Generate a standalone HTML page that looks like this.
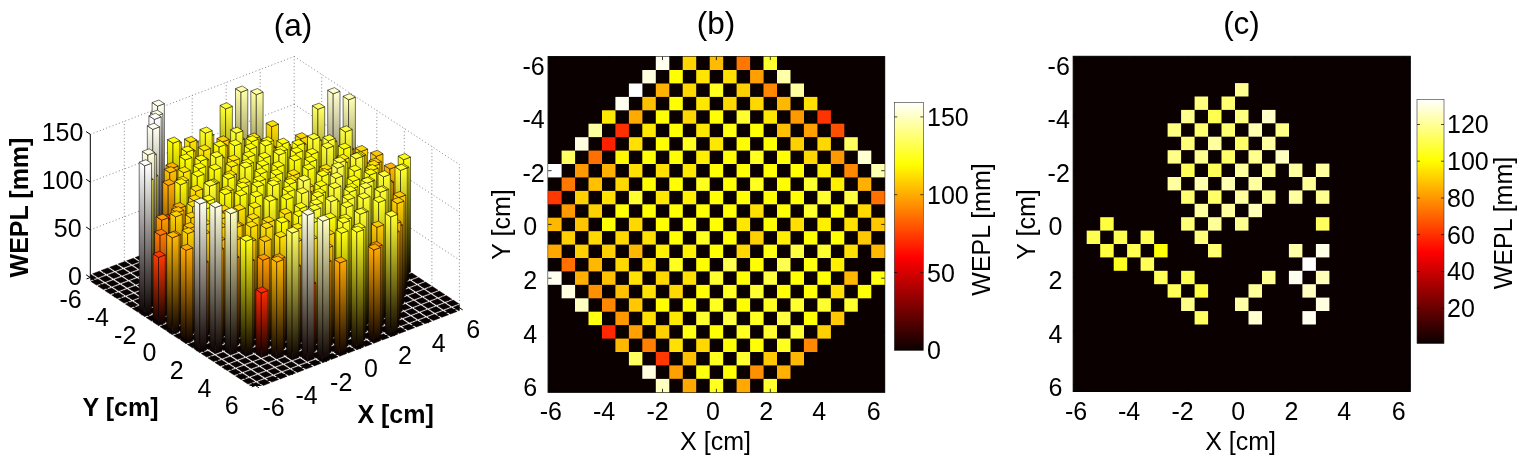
<!DOCTYPE html>
<html><head><meta charset="utf-8"><title>WEPL maps</title>
<style>
html,body{margin:0;padding:0;background:#fff;}
body{width:1529px;height:466px;overflow:hidden;}
svg{display:block;}
text{font-family:"Liberation Sans", sans-serif;fill:#000;}
.t{font-size:25px;}
.h{font-size:31.5px;}
.b{font-size:25px;font-weight:bold;}
</style></head><body>
<svg width="1529" height="466" viewBox="0 0 1529 466">
<defs>
<linearGradient id="hot" x1="0" y1="1" x2="0" y2="0"><stop offset="0" stop-color="#0b0000"/><stop offset="0.375" stop-color="#ff0000"/><stop offset="0.75" stop-color="#ffff00"/><stop offset="1" stop-color="#ffffff"/></linearGradient>
<linearGradient id="g0" x1="0" y1="0" x2="0" y2="1"><stop offset="0" stop-color="#ff2000"/><stop offset="1" stop-color="#0b0000"/></linearGradient>
<linearGradient id="g1" x1="0" y1="0" x2="0" y2="1"><stop offset="0" stop-color="#ff2800"/><stop offset="1" stop-color="#0b0000"/></linearGradient>
<linearGradient id="g2" x1="0" y1="0" x2="0" y2="1"><stop offset="0" stop-color="#ff3000"/><stop offset="1" stop-color="#0b0000"/></linearGradient>
<linearGradient id="g3" x1="0" y1="0" x2="0" y2="1"><stop offset="0" stop-color="#ff3300"/><stop offset="1" stop-color="#0b0000"/></linearGradient>
<linearGradient id="g4" x1="0" y1="0" x2="0" y2="1"><stop offset="0" stop-color="#ff3800"/><stop offset="1" stop-color="#0b0000"/></linearGradient>
<linearGradient id="g5" x1="0" y1="0" x2="0" y2="1"><stop offset="0" stop-color="#ff5000"/><stop offset="1" stop-color="#0b0000"/></linearGradient>
<linearGradient id="g6" x1="0" y1="0" x2="0" y2="1"><stop offset="0" stop-color="#ff7000"/><stop offset="1" stop-color="#0b0000"/></linearGradient>
<linearGradient id="g7" x1="0" y1="0" x2="0" y2="1"><stop offset="0" stop-color="#ff7700"/><stop offset="1" stop-color="#0b0000"/></linearGradient>
<linearGradient id="g8" x1="0" y1="0" x2="0" y2="1"><stop offset="0" stop-color="#ff7800"/><stop offset="1" stop-color="#0b0000"/></linearGradient>
<linearGradient id="g9" x1="0" y1="0" x2="0" y2="1"><stop offset="0" stop-color="#ff8000"/><stop offset="1" stop-color="#0b0000"/></linearGradient>
<linearGradient id="g10" x1="0" y1="0" x2="0" y2="1"><stop offset="0" stop-color="#ff8800"/><stop offset="1" stop-color="#0b0000"/></linearGradient>
<linearGradient id="g11" x1="0" y1="0" x2="0" y2="1"><stop offset="0" stop-color="#ff9000"/><stop offset="1" stop-color="#0b0000"/></linearGradient>
<linearGradient id="g12" x1="0" y1="0" x2="0" y2="1"><stop offset="0" stop-color="#ff9800"/><stop offset="1" stop-color="#0b0000"/></linearGradient>
<linearGradient id="g13" x1="0" y1="0" x2="0" y2="1"><stop offset="0" stop-color="#ff9900"/><stop offset="1" stop-color="#0b0000"/></linearGradient>
<linearGradient id="g14" x1="0" y1="0" x2="0" y2="1"><stop offset="0" stop-color="#ffa000"/><stop offset="1" stop-color="#0b0000"/></linearGradient>
<linearGradient id="g15" x1="0" y1="0" x2="0" y2="1"><stop offset="0" stop-color="#ffa800"/><stop offset="1" stop-color="#0b0000"/></linearGradient>
<linearGradient id="g16" x1="0" y1="0" x2="0" y2="1"><stop offset="0" stop-color="#ffaa00"/><stop offset="1" stop-color="#0b0000"/></linearGradient>
<linearGradient id="g17" x1="0" y1="0" x2="0" y2="1"><stop offset="0" stop-color="#ffb000"/><stop offset="1" stop-color="#0b0000"/></linearGradient>
<linearGradient id="g18" x1="0" y1="0" x2="0" y2="1"><stop offset="0" stop-color="#ffb800"/><stop offset="1" stop-color="#0b0000"/></linearGradient>
<linearGradient id="g19" x1="0" y1="0" x2="0" y2="1"><stop offset="0" stop-color="#ffbb00"/><stop offset="1" stop-color="#0b0000"/></linearGradient>
<linearGradient id="g20" x1="0" y1="0" x2="0" y2="1"><stop offset="0" stop-color="#ffc000"/><stop offset="1" stop-color="#0b0000"/></linearGradient>
<linearGradient id="g21" x1="0" y1="0" x2="0" y2="1"><stop offset="0" stop-color="#ffc400"/><stop offset="1" stop-color="#0b0000"/></linearGradient>
<linearGradient id="g22" x1="0" y1="0" x2="0" y2="1"><stop offset="0" stop-color="#ffc800"/><stop offset="1" stop-color="#0b0000"/></linearGradient>
<linearGradient id="g23" x1="0" y1="0" x2="0" y2="1"><stop offset="0" stop-color="#ffd000"/><stop offset="1" stop-color="#0b0000"/></linearGradient>
<linearGradient id="g24" x1="0" y1="0" x2="0" y2="1"><stop offset="0" stop-color="#ffd500"/><stop offset="1" stop-color="#0b0000"/></linearGradient>
<linearGradient id="g25" x1="0" y1="0" x2="0" y2="1"><stop offset="0" stop-color="#ffd800"/><stop offset="1" stop-color="#0b0000"/></linearGradient>
<linearGradient id="g26" x1="0" y1="0" x2="0" y2="1"><stop offset="0" stop-color="#ffe000"/><stop offset="1" stop-color="#0b0000"/></linearGradient>
<linearGradient id="g27" x1="0" y1="0" x2="0" y2="1"><stop offset="0" stop-color="#ffe500"/><stop offset="1" stop-color="#0b0000"/></linearGradient>
<linearGradient id="g28" x1="0" y1="0" x2="0" y2="1"><stop offset="0" stop-color="#ffe800"/><stop offset="1" stop-color="#0b0000"/></linearGradient>
<linearGradient id="g29" x1="0" y1="0" x2="0" y2="1"><stop offset="0" stop-color="#fff000"/><stop offset="1" stop-color="#0b0000"/></linearGradient>
<linearGradient id="g30" x1="0" y1="0" x2="0" y2="1"><stop offset="0" stop-color="#fff800"/><stop offset="1" stop-color="#0b0000"/></linearGradient>
<linearGradient id="g31" x1="0" y1="0" x2="0" y2="1"><stop offset="0" stop-color="#fffde0"/><stop offset="1" stop-color="#0b0000"/></linearGradient>
<linearGradient id="g32" x1="0" y1="0" x2="0" y2="1"><stop offset="0" stop-color="#ffff00"/><stop offset="1" stop-color="#0b0000"/></linearGradient>
<linearGradient id="g33" x1="0" y1="0" x2="0" y2="1"><stop offset="0" stop-color="#ffff10"/><stop offset="1" stop-color="#0b0000"/></linearGradient>
<linearGradient id="g34" x1="0" y1="0" x2="0" y2="1"><stop offset="0" stop-color="#ffff20"/><stop offset="1" stop-color="#0b0000"/></linearGradient>
<linearGradient id="g35" x1="0" y1="0" x2="0" y2="1"><stop offset="0" stop-color="#ffff30"/><stop offset="1" stop-color="#0b0000"/></linearGradient>
<linearGradient id="g36" x1="0" y1="0" x2="0" y2="1"><stop offset="0" stop-color="#ffff40"/><stop offset="1" stop-color="#0b0000"/></linearGradient>
<linearGradient id="g37" x1="0" y1="0" x2="0" y2="1"><stop offset="0" stop-color="#ffff50"/><stop offset="1" stop-color="#0b0000"/></linearGradient>
<linearGradient id="g38" x1="0" y1="0" x2="0" y2="1"><stop offset="0" stop-color="#ffff60"/><stop offset="1" stop-color="#0b0000"/></linearGradient>
<linearGradient id="g39" x1="0" y1="0" x2="0" y2="1"><stop offset="0" stop-color="#ffffa0"/><stop offset="1" stop-color="#0b0000"/></linearGradient>
<linearGradient id="g40" x1="0" y1="0" x2="0" y2="1"><stop offset="0" stop-color="#ffffa8"/><stop offset="1" stop-color="#0b0000"/></linearGradient>
<linearGradient id="g41" x1="0" y1="0" x2="0" y2="1"><stop offset="0" stop-color="#ffffb0"/><stop offset="1" stop-color="#0b0000"/></linearGradient>
<linearGradient id="g42" x1="0" y1="0" x2="0" y2="1"><stop offset="0" stop-color="#ffffc0"/><stop offset="1" stop-color="#0b0000"/></linearGradient>
<linearGradient id="g43" x1="0" y1="0" x2="0" y2="1"><stop offset="0" stop-color="#ffffd0"/><stop offset="1" stop-color="#0b0000"/></linearGradient>
<linearGradient id="g44" x1="0" y1="0" x2="0" y2="1"><stop offset="0" stop-color="#ffffe0"/><stop offset="1" stop-color="#0b0000"/></linearGradient>
<linearGradient id="g45" x1="0" y1="0" x2="0" y2="1"><stop offset="0" stop-color="#fffff0"/><stop offset="1" stop-color="#0b0000"/></linearGradient>
<linearGradient id="g46" x1="0" y1="0" x2="0" y2="1"><stop offset="0" stop-color="#ffffff"/><stop offset="1" stop-color="#0b0000"/></linearGradient>
</defs>
<rect width="1529" height="466" fill="#fff"/>
<clipPath id="cl"><rect x="90.3" y="40" width="369.4" height="346"/></clipPath>
<g stroke="#666" stroke-width="0.8" stroke-dasharray="1 2.4" fill="none">
<path d="M124.3 264.5L124.3 121.3" />
<path d="M158.3 251.6L158.3 108.4" />
<path d="M192.2 238.6L192.2 95.4" />
<path d="M226.2 225.6L226.2 82.4" />
<path d="M260.2 212.7L260.2 69.5" />
<path d="M294.2 199.7L294.2 56.5" />
<path d="M321.7 217.7L321.7 74.5" />
<path d="M349.3 235.7L349.3 92.5" />
<path d="M376.8 253.7L376.8 110.5" />
<path d="M404.3 271.7L404.3 128.5" />
<path d="M431.9 289.7L431.9 146.5" />
<path d="M459.4 307.7L459.4 164.5" />
<path d="M90.3 277.5L294.2 199.7" />
<path d="M294.2 199.7L459.4 307.7" />
<path d="M90.3 229.8L294.2 152" />
<path d="M294.2 152L459.4 260" />
<path d="M90.3 182L294.2 104.2" />
<path d="M294.2 104.2L459.4 212.2" />
<path d="M90.3 134.3L294.2 56.5" />
<path d="M294.2 56.5L459.4 164.5" />
</g>
<g clip-path="url(#cl)">
<path d="M84.1 277L90.9 274.4L96.5 278L89.7 280.6ZM92.6 273.8L99.4 271.2L104.9 274.8L98.2 277.4ZM101.1 270.5L107.9 267.9L113.4 271.5L106.6 274.1ZM109.6 267.3L116.4 264.7L121.9 268.3L115.1 270.9ZM118.1 264L124.9 261.4L130.4 265L123.6 267.6ZM126.6 260.8L133.4 258.2L138.9 261.8L132.1 264.4ZM135.1 257.5L141.9 255L147.4 258.6L140.6 261.1ZM143.6 254.3L150.4 251.7L155.9 255.3L149.1 257.9ZM160.6 247.8L167.4 245.2L172.9 248.8L166.1 251.4ZM177.6 241.3L184.4 238.7L189.9 242.3L183.1 244.9ZM194.6 234.9L201.4 232.3L206.9 235.9L200.1 238.5ZM211.6 228.4L218.4 225.8L223.9 229.4L217.1 232ZM228.6 221.9L235.4 219.3L240.9 222.9L234.1 225.5ZM237.1 218.6L243.9 216.1L249.4 219.7L242.6 222.2ZM245.6 215.4L252.4 212.8L257.9 216.4L251.1 219ZM254.1 212.2L260.9 209.6L266.4 213.2L259.6 215.8ZM262.6 208.9L269.4 206.3L274.9 209.9L268.1 212.5ZM271.1 205.7L277.9 203.1L283.4 206.7L276.6 209.3ZM279.6 202.4L286.3 199.8L291.9 203.4L285.1 206ZM288 199.2L294.8 196.6L300.4 200.2L293.6 202.8ZM91 281.5L97.8 278.9L103.3 282.5L96.5 285.1ZM99.5 278.3L106.3 275.7L111.8 279.3L105 281.9ZM108 275L114.8 272.4L120.3 276L113.5 278.6ZM116.5 271.8L123.3 269.2L128.8 272.8L122 275.4ZM125 268.5L131.8 265.9L137.3 269.5L130.5 272.1ZM133.5 265.3L140.3 262.7L145.8 266.3L139 268.9ZM142 262L148.8 259.5L154.3 263.1L147.5 265.6ZM159 255.6L165.8 253L171.3 256.6L164.5 259.2ZM176 249.1L182.8 246.5L188.3 250.1L181.5 252.7ZM193 242.6L199.8 240L205.3 243.6L198.5 246.2ZM210 236.1L216.8 233.5L222.3 237.1L215.5 239.7ZM227 229.6L233.8 227L239.3 230.6L232.5 233.2ZM244 223.1L250.8 220.6L256.3 224.2L249.5 226.7ZM252.5 219.9L259.2 217.3L264.8 220.9L258 223.5ZM260.9 216.7L267.7 214.1L273.3 217.7L266.5 220.3ZM269.4 213.4L276.2 210.8L281.7 214.4L275 217ZM277.9 210.2L284.7 207.6L290.2 211.2L283.4 213.8ZM286.4 206.9L293.2 204.3L298.7 207.9L291.9 210.5ZM294.9 203.7L301.7 201.1L307.2 204.7L300.4 207.3ZM97.9 286L104.7 283.4L110.2 287L103.4 289.6ZM106.4 282.8L113.2 280.2L118.7 283.8L111.9 286.4ZM114.9 279.5L121.7 276.9L127.2 280.5L120.4 283.1ZM123.4 276.3L130.2 273.7L135.7 277.3L128.9 279.9ZM131.9 273L138.7 270.4L144.2 274L137.4 276.6ZM140.4 269.8L147.2 267.2L152.7 270.8L145.9 273.4ZM157.4 263.3L164.2 260.7L169.7 264.3L162.9 266.9ZM174.4 256.8L181.2 254.2L186.7 257.8L179.9 260.4ZM191.4 250.3L198.2 247.7L203.7 251.3L196.9 253.9ZM208.4 243.9L215.2 241.3L220.7 244.9L213.9 247.5ZM225.4 237.4L232.1 234.8L237.7 238.4L230.9 241ZM242.3 230.9L249.1 228.3L254.6 231.9L247.9 234.5ZM259.3 224.4L266.1 221.8L271.6 225.4L264.8 228ZM267.8 221.2L274.6 218.6L280.1 222.2L273.3 224.8ZM276.3 217.9L283.1 215.3L288.6 218.9L281.8 221.5ZM284.8 214.7L291.6 212.1L297.1 215.7L290.3 218.3ZM293.3 211.4L300.1 208.8L305.6 212.4L298.8 215ZM301.8 208.2L308.6 205.6L314.1 209.2L307.3 211.8ZM104.8 290.5L111.6 287.9L117.1 291.5L110.3 294.1ZM113.3 287.3L120.1 284.7L125.6 288.3L118.8 290.9ZM121.8 284L128.6 281.4L134.1 285L127.3 287.6ZM130.3 280.8L137.1 278.2L142.6 281.8L135.8 284.4ZM138.8 277.5L145.6 274.9L151.1 278.5L144.3 281.1ZM155.8 271L162.6 268.5L168.1 272.1L161.3 274.6ZM172.8 264.6L179.6 262L185.1 265.6L178.3 268.2ZM189.8 258.1L196.6 255.5L202.1 259.1L195.3 261.7ZM206.7 251.6L213.5 249L219.1 252.6L212.3 255.2ZM223.7 245.1L230.5 242.5L236 246.1L229.2 248.7ZM240.7 238.6L247.5 236L253 239.6L246.2 242.2ZM257.7 232.1L264.5 229.6L270 233.2L263.2 235.7ZM274.7 225.7L281.5 223.1L287 226.7L280.2 229.3ZM283.2 222.4L290 219.8L295.5 223.4L288.7 226ZM291.7 219.2L298.5 216.6L304 220.2L297.2 222.8ZM300.2 215.9L307 213.3L312.5 216.9L305.7 219.5ZM308.7 212.7L315.5 210.1L321 213.7L314.2 216.3ZM111.7 295L118.5 292.4L124 296L117.2 298.6ZM120.2 291.8L127 289.2L132.5 292.8L125.7 295.4ZM128.7 288.5L135.5 285.9L141 289.5L134.2 292.1ZM137.2 285.3L144 282.7L149.5 286.3L142.7 288.9ZM154.2 278.8L161 276.2L166.5 279.8L159.7 282.4ZM171.2 272.3L177.9 269.7L183.5 273.3L176.7 275.9ZM188.1 265.8L194.9 263.2L200.4 266.8L193.7 269.4ZM205.1 259.3L211.9 256.7L217.4 260.3L210.6 262.9ZM222.1 252.9L228.9 250.3L234.4 253.9L227.6 256.5ZM239.1 246.4L245.9 243.8L251.4 247.4L244.6 250ZM256.1 239.9L262.9 237.3L268.4 240.9L261.6 243.5ZM273.1 233.4L279.9 230.8L285.4 234.4L278.6 237ZM290.1 226.9L296.9 224.3L302.4 227.9L295.6 230.5ZM298.6 223.7L305.4 221.1L310.9 224.7L304.1 227.3ZM307.1 220.4L313.9 217.8L319.4 221.4L312.6 224ZM315.6 217.2L322.4 214.6L327.9 218.2L321.1 220.8ZM118.6 299.5L125.4 296.9L130.9 300.5L124.1 303.1ZM127.1 296.3L133.9 293.7L139.4 297.3L132.6 299.9ZM135.6 293L142.4 290.4L147.9 294L141.1 296.6ZM152.5 286.5L159.3 283.9L164.9 287.5L158.1 290.1ZM169.5 280L176.3 277.5L181.8 281.1L175 283.6ZM186.5 273.6L193.3 271L198.8 274.6L192 277.2ZM203.5 267.1L210.3 264.5L215.8 268.1L209 270.7ZM220.5 260.6L227.3 258L232.8 261.6L226 264.2ZM237.5 254.1L244.3 251.5L249.8 255.1L243 257.7ZM254.5 247.6L261.3 245L266.8 248.6L260 251.2ZM271.5 241.1L278.3 238.6L283.8 242.2L277 244.7ZM288.5 234.7L295.3 232.1L300.8 235.7L294 238.3ZM305.5 228.2L312.3 225.6L317.8 229.2L311 231.8ZM314 224.9L320.8 222.3L326.3 225.9L319.5 228.5ZM322.5 221.7L329.3 219.1L334.8 222.7L328 225.3ZM125.4 304L132.2 301.4L137.8 305L131 307.6ZM133.9 300.8L140.7 298.2L146.2 301.8L139.5 304.4ZM150.9 294.3L157.7 291.7L163.2 295.3L156.4 297.9ZM167.9 287.8L174.7 285.2L180.2 288.8L173.4 291.4ZM184.9 281.3L191.7 278.7L197.2 282.3L190.4 284.9ZM201.9 274.8L208.7 272.2L214.2 275.8L207.4 278.4ZM218.9 268.3L225.7 265.7L231.2 269.3L224.4 271.9ZM235.9 261.9L242.7 259.3L248.2 262.9L241.4 265.5ZM252.9 255.4L259.7 252.8L265.2 256.4L258.4 259ZM269.9 248.9L276.7 246.3L282.2 249.9L275.4 252.5ZM286.9 242.4L293.7 239.8L299.2 243.4L292.4 246ZM303.9 235.9L310.7 233.3L316.2 236.9L309.4 239.5ZM320.9 229.4L327.6 226.8L333.2 230.4L326.4 233ZM329.3 226.2L336.1 223.6L341.7 227.2L334.9 229.8ZM132.3 308.5L139.1 305.9L144.6 309.5L137.8 312.1ZM149.3 302L156.1 299.4L161.6 303L154.8 305.6ZM166.3 295.5L173.1 292.9L178.6 296.5L171.8 299.1ZM183.3 289L190.1 286.5L195.6 290.1L188.8 292.6ZM200.3 282.6L207.1 280L212.6 283.6L205.8 286.2ZM217.3 276.1L224.1 273.5L229.6 277.1L222.8 279.7ZM234.3 269.6L241.1 267L246.6 270.6L239.8 273.2ZM251.3 263.1L258.1 260.5L263.6 264.1L256.8 266.7ZM268.3 256.6L275.1 254L280.6 257.6L273.8 260.2ZM285.3 250.1L292.1 247.6L297.6 251.2L290.8 253.7ZM302.2 243.7L309 241.1L314.6 244.7L307.8 247.3ZM319.2 237.2L326 234.6L331.5 238.2L324.7 240.8ZM336.2 230.7L343 228.1L348.5 231.7L341.7 234.3ZM147.7 309.8L154.5 307.2L160 310.8L153.2 313.4ZM164.7 303.3L171.5 300.7L177 304.3L170.2 306.9ZM181.7 296.8L188.5 294.2L194 297.8L187.2 300.4ZM198.7 290.3L205.5 287.7L211 291.3L204.2 293.9ZM215.7 283.8L222.5 281.2L228 284.8L221.2 287.4ZM232.7 277.3L239.5 274.7L245 278.3L238.2 280.9ZM249.7 270.9L256.5 268.3L262 271.9L255.2 274.5ZM266.7 264.4L273.4 261.8L279 265.4L272.2 268ZM283.6 257.9L290.4 255.3L295.9 258.9L289.2 261.5ZM300.6 251.4L307.4 248.8L312.9 252.4L306.1 255ZM317.6 244.9L324.4 242.3L329.9 245.9L323.1 248.5ZM334.6 238.4L341.4 235.8L346.9 239.4L340.1 242ZM146.1 317.5L152.9 314.9L158.4 318.5L151.6 321.1ZM163.1 311L169.9 308.4L175.4 312L168.6 314.6ZM180.1 304.5L186.9 301.9L192.4 305.5L185.6 308.1ZM197.1 298L203.9 295.5L209.4 299.1L202.6 301.6ZM214.1 291.6L220.9 289L226.4 292.6L219.6 295.2ZM231.1 285.1L237.9 282.5L243.4 286.1L236.6 288.7ZM248 278.6L254.8 276L260.4 279.6L253.6 282.2ZM265 272.1L271.8 269.5L277.3 273.1L270.5 275.7ZM282 265.6L288.8 263L294.3 266.6L287.5 269.2ZM299 259.1L305.8 256.6L311.3 260.2L304.5 262.7ZM316 252.7L322.8 250.1L328.3 253.7L321.5 256.3ZM333 246.2L339.8 243.6L345.3 247.2L338.5 249.8ZM350 239.7L356.8 237.1L362.3 240.7L355.5 243.3ZM161.5 318.8L168.3 316.2L173.8 319.8L167 322.4ZM178.5 312.3L185.3 309.7L190.8 313.3L184 315.9ZM195.5 305.8L202.3 303.2L207.8 306.8L201 309.4ZM212.5 299.3L219.2 296.7L224.8 300.3L218 302.9ZM229.4 292.8L236.2 290.2L241.7 293.8L235 296.4ZM246.4 286.3L253.2 283.7L258.7 287.3L251.9 289.9ZM263.4 279.9L270.2 277.3L275.7 280.9L268.9 283.5ZM280.4 273.4L287.2 270.8L292.7 274.4L285.9 277ZM297.4 266.9L304.2 264.3L309.7 267.9L302.9 270.5ZM314.4 260.4L321.2 257.8L326.7 261.4L319.9 264ZM331.4 253.9L338.2 251.3L343.7 254.9L336.9 257.5ZM348.4 247.4L355.2 244.8L360.7 248.4L353.9 251ZM159.9 326.5L166.7 323.9L172.2 327.5L165.4 330.1ZM176.9 320L183.7 317.4L189.2 321L182.4 323.6ZM193.8 313.5L200.6 310.9L206.2 314.5L199.4 317.1ZM210.8 307L217.6 304.5L223.1 308.1L216.3 310.6ZM227.8 300.6L234.6 298L240.1 301.6L233.3 304.2ZM244.8 294.1L251.6 291.5L257.1 295.1L250.3 297.7ZM261.8 287.6L268.6 285L274.1 288.6L267.3 291.2ZM278.8 281.1L285.6 278.5L291.1 282.1L284.3 284.7ZM295.8 274.6L302.6 272L308.1 275.6L301.3 278.2ZM312.8 268.1L319.6 265.6L325.1 269.2L318.3 271.7ZM329.8 261.7L336.6 259.1L342.1 262.7L335.3 265.3ZM346.8 255.2L353.6 252.6L359.1 256.2L352.3 258.8ZM363.8 248.7L370.6 246.1L376.1 249.7L369.3 252.3ZM175.2 327.8L182 325.2L187.5 328.8L180.8 331.4ZM192.2 321.3L199 318.7L204.5 322.3L197.7 324.9ZM209.2 314.8L216 312.2L221.5 315.8L214.7 318.4ZM226.2 308.3L233 305.7L238.5 309.3L231.7 311.9ZM243.2 301.8L250 299.2L255.5 302.8L248.7 305.4ZM260.2 295.3L267 292.7L272.5 296.3L265.7 298.9ZM277.2 288.9L284 286.3L289.5 289.9L282.7 292.5ZM294.2 282.4L301 279.8L306.5 283.4L299.7 286ZM311.2 275.9L318 273.3L323.5 276.9L316.7 279.5ZM328.2 269.4L335 266.8L340.5 270.4L333.7 273ZM345.2 262.9L352 260.3L357.5 263.9L350.7 266.5ZM362.2 256.4L368.9 253.8L374.5 257.4L367.7 260ZM173.6 335.5L180.4 332.9L185.9 336.5L179.1 339.1ZM190.6 329L197.4 326.4L202.9 330L196.1 332.6ZM207.6 322.5L214.4 319.9L219.9 323.5L213.1 326.1ZM224.6 316L231.4 313.5L236.9 317.1L230.1 319.6ZM241.6 309.6L248.4 307L253.9 310.6L247.1 313.2ZM258.6 303.1L265.4 300.5L270.9 304.1L264.1 306.7ZM275.6 296.6L282.4 294L287.9 297.6L281.1 300.2ZM292.6 290.1L299.4 287.5L304.9 291.1L298.1 293.7ZM309.6 283.6L316.4 281L321.9 284.6L315.1 287.2ZM326.6 277.1L333.4 274.6L338.9 278.2L332.1 280.7ZM343.5 270.7L350.3 268.1L355.9 271.7L349.1 274.3ZM360.5 264.2L367.3 261.6L372.8 265.2L366 267.8ZM377.5 257.7L384.3 255.1L389.8 258.7L383 261.3ZM189 336.8L195.8 334.2L201.3 337.8L194.5 340.4ZM206 330.3L212.8 327.7L218.3 331.3L211.5 333.9ZM223 323.8L229.8 321.2L235.3 324.8L228.5 327.4ZM240 317.3L246.8 314.7L252.3 318.3L245.5 320.9ZM257 310.8L263.8 308.2L269.3 311.8L262.5 314.4ZM274 304.3L280.8 301.7L286.3 305.3L279.5 307.9ZM291 297.9L297.8 295.3L303.3 298.9L296.5 301.5ZM308 291.4L314.7 288.8L320.3 292.4L313.5 295ZM324.9 284.9L331.7 282.3L337.2 285.9L330.5 288.5ZM341.9 278.4L348.7 275.8L354.2 279.4L347.4 282ZM358.9 271.9L365.7 269.3L371.2 272.9L364.4 275.5ZM375.9 265.4L382.7 262.8L388.2 266.4L381.4 269ZM187.4 344.5L194.2 341.9L199.7 345.5L192.9 348.1ZM204.4 338L211.2 335.4L216.7 339L209.9 341.6ZM221.4 331.5L228.2 328.9L233.7 332.5L226.9 335.1ZM238.4 325L245.2 322.5L250.7 326.1L243.9 328.6ZM255.4 318.6L262.2 316L267.7 319.6L260.9 322.2ZM272.4 312.1L279.2 309.5L284.7 313.1L277.9 315.7ZM289.3 305.6L296.1 303L301.7 306.6L294.9 309.2ZM306.3 299.1L313.1 296.5L318.6 300.1L311.8 302.7ZM323.3 292.6L330.1 290L335.6 293.6L328.8 296.2ZM340.3 286.1L347.1 283.6L352.6 287.2L345.8 289.7ZM357.3 279.7L364.1 277.1L369.6 280.7L362.8 283.3ZM374.3 273.2L381.1 270.6L386.6 274.2L379.8 276.8ZM382.8 269.9L389.6 267.3L395.1 270.9L388.3 273.5ZM391.3 266.7L398.1 264.1L403.6 267.7L396.8 270.3ZM202.8 345.8L209.6 343.2L215.1 346.8L208.3 349.4ZM219.8 339.3L226.6 336.7L232.1 340.3L225.3 342.9ZM236.8 332.8L243.6 330.2L249.1 333.8L242.3 336.4ZM253.8 326.3L260.5 323.7L266.1 327.3L259.3 329.9ZM270.7 319.8L277.5 317.2L283 320.8L276.3 323.4ZM287.7 313.3L294.5 310.7L300 314.3L293.2 316.9ZM304.7 306.9L311.5 304.3L317 307.9L310.2 310.5ZM321.7 300.4L328.5 297.8L334 301.4L327.2 304ZM338.7 293.9L345.5 291.3L351 294.9L344.2 297.5ZM355.7 287.4L362.5 284.8L368 288.4L361.2 291ZM372.7 280.9L379.5 278.3L385 281.9L378.2 284.5ZM389.7 274.4L396.5 271.8L402 275.4L395.2 278ZM201.2 353.5L208 350.9L213.5 354.5L206.7 357.1ZM218.2 347L225 344.4L230.5 348L223.7 350.6ZM235.1 340.5L241.9 337.9L247.5 341.5L240.7 344.1ZM252.1 334L258.9 331.5L264.4 335.1L257.6 337.6ZM269.1 327.6L275.9 325L281.4 328.6L274.6 331.2ZM286.1 321.1L292.9 318.5L298.4 322.1L291.6 324.7ZM303.1 314.6L309.9 312L315.4 315.6L308.6 318.2ZM320.1 308.1L326.9 305.5L332.4 309.1L325.6 311.7ZM337.1 301.6L343.9 299L349.4 302.6L342.6 305.2ZM354.1 295.1L360.9 292.6L366.4 296.2L359.6 298.7ZM371.1 288.7L377.9 286.1L383.4 289.7L376.6 292.3ZM388.1 282.2L394.9 279.6L400.4 283.2L393.6 285.8ZM405.1 275.7L411.9 273.1L417.4 276.7L410.6 279.3ZM208 358L214.8 355.4L220.4 359L213.6 361.6ZM216.5 354.8L223.3 352.2L228.8 355.8L222.1 358.4ZM233.5 348.3L240.3 345.7L245.8 349.3L239 351.9ZM250.5 341.8L257.3 339.2L262.8 342.8L256 345.4ZM267.5 335.3L274.3 332.7L279.8 336.3L273 338.9ZM284.5 328.8L291.3 326.2L296.8 329.8L290 332.4ZM301.5 322.3L308.3 319.7L313.8 323.3L307 325.9ZM318.5 315.9L325.3 313.3L330.8 316.9L324 319.5ZM335.5 309.4L342.3 306.8L347.8 310.4L341 313ZM352.5 302.9L359.3 300.3L364.8 303.9L358 306.5ZM369.5 296.4L376.3 293.8L381.8 297.4L375 300ZM386.5 289.9L393.3 287.3L398.8 290.9L392 293.5ZM403.5 283.4L410.2 280.8L415.8 284.4L409 287ZM411.9 280.2L418.7 277.6L424.3 281.2L417.5 283.8ZM214.9 362.5L221.7 359.9L227.2 363.5L220.4 366.1ZM223.4 359.3L230.2 356.7L235.7 360.3L228.9 362.9ZM231.9 356L238.7 353.4L244.2 357L237.4 359.6ZM248.9 349.5L255.7 346.9L261.2 350.5L254.4 353.1ZM265.9 343L272.7 340.5L278.2 344.1L271.4 346.6ZM282.9 336.6L289.7 334L295.2 337.6L288.4 340.2ZM299.9 330.1L306.7 327.5L312.2 331.1L305.4 333.7ZM316.9 323.6L323.7 321L329.2 324.6L322.4 327.2ZM333.9 317.1L340.7 314.5L346.2 318.1L339.4 320.7ZM350.9 310.6L357.7 308L363.2 311.6L356.4 314.2ZM367.9 304.1L374.7 301.6L380.2 305.2L373.4 307.7ZM384.8 297.7L391.6 295.1L397.2 298.7L390.4 301.3ZM401.8 291.2L408.6 288.6L414.1 292.2L407.3 294.8ZM410.3 287.9L417.1 285.3L422.6 288.9L415.8 291.5ZM418.8 284.7L425.6 282.1L431.1 285.7L424.3 288.3ZM221.8 367L228.6 364.4L234.1 368L227.3 370.6ZM230.3 363.8L237.1 361.2L242.6 364.8L235.8 367.4ZM238.8 360.5L245.6 357.9L251.1 361.5L244.3 364.1ZM247.3 357.3L254.1 354.7L259.6 358.3L252.8 360.9ZM264.3 350.8L271.1 348.2L276.6 351.8L269.8 354.4ZM281.3 344.3L288.1 341.7L293.6 345.3L286.8 347.9ZM298.3 337.8L305.1 335.2L310.6 338.8L303.8 341.4ZM315.3 331.3L322.1 328.7L327.6 332.3L320.8 334.9ZM332.3 324.9L339.1 322.3L344.6 325.9L337.8 328.5ZM349.3 318.4L356 315.8L361.6 319.4L354.8 322ZM366.2 311.9L373 309.3L378.5 312.9L371.8 315.5ZM383.2 305.4L390 302.8L395.5 306.4L388.7 309ZM400.2 298.9L407 296.3L412.5 299.9L405.7 302.5ZM408.7 295.7L415.5 293.1L421 296.7L414.2 299.3ZM417.2 292.4L424 289.8L429.5 293.4L422.7 296ZM425.7 289.2L432.5 286.6L438 290.2L431.2 292.8ZM228.7 371.5L235.5 368.9L241 372.5L234.2 375.1ZM237.2 368.3L244 365.7L249.5 369.3L242.7 371.9ZM245.7 365L252.5 362.4L258 366L251.2 368.6ZM254.2 361.8L261 359.2L266.5 362.8L259.7 365.4ZM262.7 358.5L269.5 355.9L275 359.5L268.2 362.1ZM279.7 352L286.5 349.5L292 353.1L285.2 355.6ZM296.7 345.6L303.5 343L309 346.6L302.2 349.2ZM313.7 339.1L320.5 336.5L326 340.1L319.2 342.7ZM330.6 332.6L337.4 330L343 333.6L336.2 336.2ZM347.6 326.1L354.4 323.5L359.9 327.1L353.1 329.7ZM364.6 319.6L371.4 317L376.9 320.6L370.1 323.2ZM381.6 313.1L388.4 310.6L393.9 314.2L387.1 316.7ZM398.6 306.7L405.4 304.1L410.9 307.7L404.1 310.3ZM407.1 303.4L413.9 300.8L419.4 304.4L412.6 307ZM415.6 300.2L422.4 297.6L427.9 301.2L421.1 303.8ZM424.1 296.9L430.9 294.3L436.4 297.9L429.6 300.5ZM432.6 293.7L439.4 291.1L444.9 294.7L438.1 297.3ZM235.6 376L242.4 373.4L247.9 377L241.1 379.6ZM244.1 372.8L250.9 370.2L256.4 373.8L249.6 376.4ZM252.6 369.5L259.4 366.9L264.9 370.5L258.1 373.1ZM261.1 366.3L267.9 363.7L273.4 367.3L266.6 369.9ZM269.6 363L276.4 360.4L281.9 364L275.1 366.6ZM278.1 359.8L284.9 357.2L290.4 360.8L283.6 363.4ZM295.1 353.3L301.8 350.7L307.4 354.3L300.6 356.9ZM312 346.8L318.8 344.2L324.3 347.8L317.6 350.4ZM329 340.3L335.8 337.7L341.3 341.3L334.5 343.9ZM346 333.9L352.8 331.3L358.3 334.9L351.5 337.5ZM363 327.4L369.8 324.8L375.3 328.4L368.5 331ZM380 320.9L386.8 318.3L392.3 321.9L385.5 324.5ZM397 314.4L403.8 311.8L409.3 315.4L402.5 318ZM405.5 311.2L412.3 308.6L417.8 312.2L411 314.8ZM414 307.9L420.8 305.3L426.3 308.9L419.5 311.5ZM422.5 304.7L429.3 302.1L434.8 305.7L428 308.3ZM431 301.4L437.8 298.8L443.3 302.4L436.5 305ZM439.5 298.2L446.3 295.6L451.8 299.2L445 301.8ZM242.5 380.5L249.3 377.9L254.8 381.5L248 384.1ZM251 377.3L257.8 374.7L263.3 378.3L256.5 380.9ZM259.5 374L266.3 371.4L271.8 375L265 377.6ZM268 370.8L274.7 368.2L280.3 371.8L273.5 374.4ZM276.4 367.5L283.2 364.9L288.8 368.5L282 371.1ZM284.9 364.3L291.7 361.7L297.2 365.3L290.5 367.9ZM293.4 361L300.2 358.5L305.7 362.1L298.9 364.6ZM310.4 354.6L317.2 352L322.7 355.6L315.9 358.2ZM327.4 348.1L334.2 345.5L339.7 349.1L332.9 351.7ZM344.4 341.6L351.2 339L356.7 342.6L349.9 345.2ZM361.4 335.1L368.2 332.5L373.7 336.1L366.9 338.7ZM378.4 328.6L385.2 326L390.7 329.6L383.9 332.2ZM395.4 322.1L402.2 319.6L407.7 323.2L400.9 325.7ZM403.9 318.9L410.7 316.3L416.2 319.9L409.4 322.5ZM412.4 315.7L419.2 313.1L424.7 316.7L417.9 319.3ZM420.9 312.4L427.7 309.8L433.2 313.4L426.4 316ZM429.4 309.2L436.2 306.6L441.7 310.2L434.9 312.8ZM437.9 305.9L444.7 303.3L450.2 306.9L443.4 309.5ZM446.4 302.7L453.2 300.1L458.7 303.7L451.9 306.3ZM249.3 385L256.1 382.4L261.7 386L254.9 388.6ZM257.8 381.8L264.6 379.2L270.1 382.8L263.4 385.4ZM266.3 378.5L273.1 375.9L278.6 379.5L271.8 382.1ZM274.8 375.3L281.6 372.7L287.1 376.3L280.3 378.9ZM283.3 372L290.1 369.4L295.6 373L288.8 375.6ZM291.8 368.8L298.6 366.2L304.1 369.8L297.3 372.4ZM300.3 365.5L307.1 363L312.6 366.6L305.8 369.1ZM308.8 362.3L315.6 359.7L321.1 363.3L314.3 365.9ZM325.8 355.8L332.6 353.2L338.1 356.8L331.3 359.4ZM342.8 349.3L349.6 346.7L355.1 350.3L348.3 352.9ZM359.8 342.9L366.6 340.3L372.1 343.9L365.3 346.5ZM376.8 336.4L383.6 333.8L389.1 337.4L382.3 340ZM393.8 329.9L400.6 327.3L406.1 330.9L399.3 333.5ZM402.3 326.6L409.1 324.1L414.6 327.7L407.8 330.2ZM410.8 323.4L417.6 320.8L423.1 324.4L416.3 327ZM419.3 320.2L426.1 317.6L431.6 321.2L424.8 323.8ZM427.8 316.9L434.6 314.3L440.1 317.9L433.3 320.5ZM436.3 313.7L443.1 311.1L448.6 314.7L441.8 317.3ZM444.8 310.4L451.5 307.8L457.1 311.4L450.3 314ZM453.2 307.2L460 304.6L465.6 308.2L458.8 310.8Z" fill="#0b0000" stroke="#000" stroke-width="0.5"/>
<g stroke="#000" stroke-width="0.55" stroke-linejoin="round">
<rect width="1" height="1" fill="url(#g35)" vector-effect="non-scaling-stroke" transform="matrix(5.5 3.6 0 119.9 220.1 105.3)"/>
<rect width="1" height="1" fill="url(#g35)" vector-effect="non-scaling-stroke" transform="matrix(6.8 -2.6 0 119.9 225.6 108.9)"/>
<path d="M220.1 105.3L226.9 102.7L232.4 106.3L225.6 108.9Z" fill="#ffff30"/>
<rect width="1" height="1" fill="url(#g7)" vector-effect="non-scaling-stroke" transform="matrix(5.5 3.6 0 82.3 203.1 149.3)"/>
<rect width="1" height="1" fill="url(#g7)" vector-effect="non-scaling-stroke" transform="matrix(6.8 -2.6 0 82.3 208.6 152.9)"/>
<path d="M203.1 149.3L209.9 146.8L215.4 150.4L208.6 152.9Z" fill="#ff7700"/>
<rect width="1" height="1" fill="url(#g19)" vector-effect="non-scaling-stroke" transform="matrix(5.5 3.6 0 97.5 186.1 140.6)"/>
<rect width="1" height="1" fill="url(#g19)" vector-effect="non-scaling-stroke" transform="matrix(6.8 -2.6 0 97.5 191.6 144.2)"/>
<path d="M186.1 140.6L192.9 138L198.4 141.6L191.6 144.2Z" fill="#ffbb00"/>
<rect width="1" height="1" fill="url(#g24)" vector-effect="non-scaling-stroke" transform="matrix(5.5 3.6 0 103.3 169.1 141.3)"/>
<rect width="1" height="1" fill="url(#g24)" vector-effect="non-scaling-stroke" transform="matrix(6.8 -2.6 0 103.3 174.6 144.9)"/>
<path d="M169.1 141.3L175.9 138.7L181.4 142.3L174.6 144.9Z" fill="#ffd500"/>
<rect width="1" height="1" fill="url(#g45)" vector-effect="non-scaling-stroke" transform="matrix(5.5 3.6 0 148.5 152.1 102.6)"/>
<rect width="1" height="1" fill="url(#g45)" vector-effect="non-scaling-stroke" transform="matrix(6.8 -2.6 0 148.5 157.6 106.2)"/>
<path d="M152.1 102.6L158.9 100L164.4 103.6L157.6 106.2Z" fill="#fffff0"/>
<rect width="1" height="1" fill="url(#g40)" vector-effect="non-scaling-stroke" transform="matrix(5.5 3.6 0 137.8 235.5 88.6)"/>
<rect width="1" height="1" fill="url(#g40)" vector-effect="non-scaling-stroke" transform="matrix(6.8 -2.6 0 137.8 241 92.2)"/>
<path d="M235.5 88.6L242.3 86L247.8 89.6L241 92.2Z" fill="#ffffa8"/>
<rect width="1" height="1" fill="url(#g14)" vector-effect="non-scaling-stroke" transform="matrix(5.5 3.6 0 91.4 218.5 141.4)"/>
<rect width="1" height="1" fill="url(#g14)" vector-effect="non-scaling-stroke" transform="matrix(6.8 -2.6 0 91.4 224 145)"/>
<path d="M218.5 141.4L225.3 138.8L230.8 142.4L224 145Z" fill="#ffa000"/>
<rect width="1" height="1" fill="url(#g26)" vector-effect="non-scaling-stroke" transform="matrix(5.5 3.6 0 105.8 201.5 133.6)"/>
<rect width="1" height="1" fill="url(#g26)" vector-effect="non-scaling-stroke" transform="matrix(6.8 -2.6 0 105.8 207 137.2)"/>
<path d="M201.5 133.6L208.3 131L213.8 134.6L207 137.2Z" fill="#ffe000"/>
<rect width="1" height="1" fill="url(#g27)" vector-effect="non-scaling-stroke" transform="matrix(5.5 3.6 0 106.9 184.5 139)"/>
<rect width="1" height="1" fill="url(#g27)" vector-effect="non-scaling-stroke" transform="matrix(6.8 -2.6 0 106.9 190 142.6)"/>
<path d="M184.5 139L191.3 136.4L196.8 140L190 142.6Z" fill="#ffe500"/>
<rect width="1" height="1" fill="url(#g32)" vector-effect="non-scaling-stroke" transform="matrix(5.5 3.6 0 112.7 167.5 139.6)"/>
<rect width="1" height="1" fill="url(#g32)" vector-effect="non-scaling-stroke" transform="matrix(6.8 -2.6 0 112.7 173 143.2)"/>
<path d="M167.5 139.6L174.3 137L179.8 140.6L173 143.2Z" fill="#ffff00"/>
<rect width="1" height="1" fill="url(#g44)" vector-effect="non-scaling-stroke" transform="matrix(5.5 3.6 0 146.1 150.5 112.7)"/>
<rect width="1" height="1" fill="url(#g44)" vector-effect="non-scaling-stroke" transform="matrix(6.8 -2.6 0 146.1 156 116.3)"/>
<path d="M150.5 112.7L157.3 110.1L162.8 113.7L156 116.3Z" fill="#ffffe0"/>
<rect width="1" height="1" fill="url(#g39)" vector-effect="non-scaling-stroke" transform="matrix(5.5 3.6 0 136.6 250.8 91.1)"/>
<rect width="1" height="1" fill="url(#g39)" vector-effect="non-scaling-stroke" transform="matrix(6.8 -2.6 0 136.6 256.3 94.7)"/>
<path d="M250.8 91.1L257.6 88.5L263.1 92.1L256.3 94.7Z" fill="#ffffa0"/>
<rect width="1" height="1" fill="url(#g10)" vector-effect="non-scaling-stroke" transform="matrix(5.5 3.6 0 86.1 233.8 148.1)"/>
<rect width="1" height="1" fill="url(#g10)" vector-effect="non-scaling-stroke" transform="matrix(6.8 -2.6 0 86.1 239.4 151.7)"/>
<path d="M233.8 148.1L240.6 145.5L246.2 149.1L239.4 151.7Z" fill="#ff8800"/>
<rect width="1" height="1" fill="url(#g23)" vector-effect="non-scaling-stroke" transform="matrix(5.5 3.6 0 102.2 216.9 138.4)"/>
<rect width="1" height="1" fill="url(#g23)" vector-effect="non-scaling-stroke" transform="matrix(6.8 -2.6 0 102.2 222.4 142)"/>
<path d="M216.9 138.4L223.7 135.8L229.2 139.4L222.4 142Z" fill="#ffd000"/>
<rect width="1" height="1" fill="url(#g34)" vector-effect="non-scaling-stroke" transform="matrix(5.5 3.6 0 117.5 199.9 129.6)"/>
<rect width="1" height="1" fill="url(#g34)" vector-effect="non-scaling-stroke" transform="matrix(6.8 -2.6 0 117.5 205.4 133.2)"/>
<path d="M199.9 129.6L206.7 127L212.2 130.6L205.4 133.2Z" fill="#ffff20"/>
<rect width="1" height="1" fill="url(#g25)" vector-effect="non-scaling-stroke" transform="matrix(5.5 3.6 0 104 182.9 149.6)"/>
<rect width="1" height="1" fill="url(#g25)" vector-effect="non-scaling-stroke" transform="matrix(6.8 -2.6 0 104 188.4 153.2)"/>
<path d="M182.9 149.6L189.7 147L195.2 150.6L188.4 153.2Z" fill="#ffd800"/>
<rect width="1" height="1" fill="url(#g17)" vector-effect="non-scaling-stroke" transform="matrix(5.5 3.6 0 95 165.9 165)"/>
<rect width="1" height="1" fill="url(#g17)" vector-effect="non-scaling-stroke" transform="matrix(6.8 -2.6 0 95 171.4 168.6)"/>
<path d="M165.9 165L172.7 162.4L178.2 166L171.4 168.6Z" fill="#ffb000"/>
<rect width="1" height="1" fill="url(#g46)" vector-effect="non-scaling-stroke" transform="matrix(5.5 3.6 0 150.7 148.9 115.8)"/>
<rect width="1" height="1" fill="url(#g46)" vector-effect="non-scaling-stroke" transform="matrix(6.8 -2.6 0 150.7 154.4 119.4)"/>
<path d="M148.9 115.8L155.7 113.2L161.2 116.8L154.4 119.4Z" fill="#ffffff"/>
<rect width="1" height="1" fill="url(#g26)" vector-effect="non-scaling-stroke" transform="matrix(5.5 3.6 0 105.8 266.2 123.1)"/>
<rect width="1" height="1" fill="url(#g26)" vector-effect="non-scaling-stroke" transform="matrix(6.8 -2.6 0 105.8 271.7 126.7)"/>
<path d="M266.2 123.1L273 120.5L278.5 124.1L271.7 126.7Z" fill="#ffe000"/>
<rect width="1" height="1" fill="url(#g18)" vector-effect="non-scaling-stroke" transform="matrix(5.5 3.6 0 96.8 249.2 138.6)"/>
<rect width="1" height="1" fill="url(#g18)" vector-effect="non-scaling-stroke" transform="matrix(6.8 -2.6 0 96.8 254.7 142.2)"/>
<path d="M249.2 138.6L256 136L261.5 139.6L254.7 142.2Z" fill="#ffb800"/>
<rect width="1" height="1" fill="url(#g25)" vector-effect="non-scaling-stroke" transform="matrix(5.5 3.6 0 104 232.2 137.9)"/>
<rect width="1" height="1" fill="url(#g25)" vector-effect="non-scaling-stroke" transform="matrix(6.8 -2.6 0 104 237.7 141.5)"/>
<path d="M232.2 137.9L239 135.3L244.5 138.9L237.7 141.5Z" fill="#ffd800"/>
<rect width="1" height="1" fill="url(#g25)" vector-effect="non-scaling-stroke" transform="matrix(5.5 3.6 0 104 215.2 144.4)"/>
<rect width="1" height="1" fill="url(#g25)" vector-effect="non-scaling-stroke" transform="matrix(6.8 -2.6 0 104 220.8 148)"/>
<path d="M215.2 144.4L222 141.8L227.5 145.4L220.8 148Z" fill="#ffd800"/>
<rect width="1" height="1" fill="url(#g28)" vector-effect="non-scaling-stroke" transform="matrix(5.5 3.6 0 107.6 198.3 147.3)"/>
<rect width="1" height="1" fill="url(#g28)" vector-effect="non-scaling-stroke" transform="matrix(6.8 -2.6 0 107.6 203.8 150.9)"/>
<path d="M198.3 147.3L205 144.7L210.6 148.3L203.8 150.9Z" fill="#ffe800"/>
<rect width="1" height="1" fill="url(#g32)" vector-effect="non-scaling-stroke" transform="matrix(5.5 3.6 0 112.7 181.3 148.6)"/>
<rect width="1" height="1" fill="url(#g32)" vector-effect="non-scaling-stroke" transform="matrix(6.8 -2.6 0 112.7 186.8 152.2)"/>
<path d="M181.3 148.6L188.1 146L193.6 149.6L186.8 152.2Z" fill="#ffff00"/>
<rect width="1" height="1" fill="url(#g20)" vector-effect="non-scaling-stroke" transform="matrix(5.5 3.6 0 98.6 164.3 169.2)"/>
<rect width="1" height="1" fill="url(#g20)" vector-effect="non-scaling-stroke" transform="matrix(6.8 -2.6 0 98.6 169.8 172.8)"/>
<path d="M164.3 169.2L171.1 166.6L176.6 170.2L169.8 172.8Z" fill="#ffc000"/>
<rect width="1" height="1" fill="url(#g45)" vector-effect="non-scaling-stroke" transform="matrix(5.5 3.6 0 148.5 147.3 125.8)"/>
<rect width="1" height="1" fill="url(#g45)" vector-effect="non-scaling-stroke" transform="matrix(6.8 -2.6 0 148.5 152.8 129.4)"/>
<path d="M147.3 125.8L154.1 123.2L159.6 126.8L152.8 129.4Z" fill="#fffff0"/>
<rect width="1" height="1" fill="url(#g3)" vector-effect="non-scaling-stroke" transform="matrix(5.5 3.6 0 67 281.6 163.1)"/>
<rect width="1" height="1" fill="url(#g3)" vector-effect="non-scaling-stroke" transform="matrix(6.8 -2.6 0 67 287.1 166.7)"/>
<path d="M281.6 163.1L288.4 160.5L293.9 164.1L287.1 166.7Z" fill="#ff3300"/>
<rect width="1" height="1" fill="url(#g13)" vector-effect="non-scaling-stroke" transform="matrix(5.5 3.6 0 89.9 264.6 146.8)"/>
<rect width="1" height="1" fill="url(#g13)" vector-effect="non-scaling-stroke" transform="matrix(6.8 -2.6 0 89.9 270.1 150.4)"/>
<path d="M264.6 146.8L271.4 144.2L276.9 147.8L270.1 150.4Z" fill="#ff9900"/>
<rect width="1" height="1" fill="url(#g28)" vector-effect="non-scaling-stroke" transform="matrix(5.5 3.6 0 107.6 247.6 135.6)"/>
<rect width="1" height="1" fill="url(#g28)" vector-effect="non-scaling-stroke" transform="matrix(6.8 -2.6 0 107.6 253.1 139.2)"/>
<path d="M247.6 135.6L254.4 133L259.9 136.6L253.1 139.2Z" fill="#ffe800"/>
<rect width="1" height="1" fill="url(#g35)" vector-effect="non-scaling-stroke" transform="matrix(5.5 3.6 0 119.9 230.6 129.7)"/>
<rect width="1" height="1" fill="url(#g35)" vector-effect="non-scaling-stroke" transform="matrix(6.8 -2.6 0 119.9 236.1 133.3)"/>
<path d="M230.6 129.7L237.4 127.2L242.9 130.8L236.1 133.3Z" fill="#ffff30"/>
<rect width="1" height="1" fill="url(#g32)" vector-effect="non-scaling-stroke" transform="matrix(5.5 3.6 0 112.7 213.6 143.4)"/>
<rect width="1" height="1" fill="url(#g32)" vector-effect="non-scaling-stroke" transform="matrix(6.8 -2.6 0 112.7 219.1 147)"/>
<path d="M213.6 143.4L220.4 140.8L225.9 144.4L219.1 147Z" fill="#ffff00"/>
<rect width="1" height="1" fill="url(#g25)" vector-effect="non-scaling-stroke" transform="matrix(5.5 3.6 0 104 196.6 158.6)"/>
<rect width="1" height="1" fill="url(#g25)" vector-effect="non-scaling-stroke" transform="matrix(6.8 -2.6 0 104 202.1 162.2)"/>
<path d="M196.6 158.6L203.4 156L208.9 159.6L202.1 162.2Z" fill="#ffd800"/>
<rect width="1" height="1" fill="url(#g32)" vector-effect="non-scaling-stroke" transform="matrix(5.5 3.6 0 112.7 179.6 156.4)"/>
<rect width="1" height="1" fill="url(#g32)" vector-effect="non-scaling-stroke" transform="matrix(6.8 -2.6 0 112.7 185.2 160)"/>
<path d="M179.6 156.4L186.4 153.8L192 157.4L185.2 160Z" fill="#ffff00"/>
<rect width="1" height="1" fill="url(#g16)" vector-effect="non-scaling-stroke" transform="matrix(5.5 3.6 0 93.7 162.7 181.9)"/>
<rect width="1" height="1" fill="url(#g16)" vector-effect="non-scaling-stroke" transform="matrix(6.8 -2.6 0 93.7 168.2 185.5)"/>
<path d="M162.7 181.9L169.5 179.3L175 182.9L168.2 185.5Z" fill="#ffaa00"/>
<rect width="1" height="1" fill="url(#g28)" vector-effect="non-scaling-stroke" transform="matrix(5.5 3.6 0 107.6 145.7 174.5)"/>
<rect width="1" height="1" fill="url(#g28)" vector-effect="non-scaling-stroke" transform="matrix(6.8 -2.6 0 107.6 151.2 178.1)"/>
<path d="M145.7 174.5L152.5 171.9L158 175.5L151.2 178.1Z" fill="#ffe800"/>
<rect width="1" height="1" fill="url(#g5)" vector-effect="non-scaling-stroke" transform="matrix(5.5 3.6 0 73.5 297 157.9)"/>
<rect width="1" height="1" fill="url(#g5)" vector-effect="non-scaling-stroke" transform="matrix(6.8 -2.6 0 73.5 302.5 161.5)"/>
<path d="M297 157.9L303.8 155.3L309.3 158.9L302.5 161.5Z" fill="#ff5000"/>
<rect width="1" height="1" fill="url(#g14)" vector-effect="non-scaling-stroke" transform="matrix(5.5 3.6 0 91.4 280 146.5)"/>
<rect width="1" height="1" fill="url(#g14)" vector-effect="non-scaling-stroke" transform="matrix(6.8 -2.6 0 91.4 285.5 150.1)"/>
<path d="M280 146.5L286.8 143.9L292.3 147.5L285.5 150.1Z" fill="#ffa000"/>
<rect width="1" height="1" fill="url(#g20)" vector-effect="non-scaling-stroke" transform="matrix(5.5 3.6 0 98.6 263 145.8)"/>
<rect width="1" height="1" fill="url(#g20)" vector-effect="non-scaling-stroke" transform="matrix(6.8 -2.6 0 98.6 268.5 149.4)"/>
<path d="M263 145.8L269.8 143.2L275.3 146.8L268.5 149.4Z" fill="#ffc000"/>
<rect width="1" height="1" fill="url(#g32)" vector-effect="non-scaling-stroke" transform="matrix(5.5 3.6 0 112.7 246 138.2)"/>
<rect width="1" height="1" fill="url(#g32)" vector-effect="non-scaling-stroke" transform="matrix(6.8 -2.6 0 112.7 251.5 141.8)"/>
<path d="M246 138.2L252.8 135.6L258.3 139.2L251.5 141.8Z" fill="#ffff00"/>
<rect width="1" height="1" fill="url(#g33)" vector-effect="non-scaling-stroke" transform="matrix(5.5 3.6 0 115.1 229 142.3)"/>
<rect width="1" height="1" fill="url(#g33)" vector-effect="non-scaling-stroke" transform="matrix(6.8 -2.6 0 115.1 234.5 145.9)"/>
<path d="M229 142.3L235.8 139.7L241.3 143.3L234.5 145.9Z" fill="#ffff10"/>
<rect width="1" height="1" fill="url(#g28)" vector-effect="non-scaling-stroke" transform="matrix(5.5 3.6 0 107.6 212 156.3)"/>
<rect width="1" height="1" fill="url(#g28)" vector-effect="non-scaling-stroke" transform="matrix(6.8 -2.6 0 107.6 217.5 159.9)"/>
<path d="M212 156.3L218.8 153.7L224.3 157.3L217.5 159.9Z" fill="#ffe800"/>
<rect width="1" height="1" fill="url(#g32)" vector-effect="non-scaling-stroke" transform="matrix(5.5 3.6 0 112.7 195 157.6)"/>
<rect width="1" height="1" fill="url(#g32)" vector-effect="non-scaling-stroke" transform="matrix(6.8 -2.6 0 112.7 200.5 161.2)"/>
<path d="M195 157.6L201.8 155L207.3 158.6L200.5 161.2Z" fill="#ffff00"/>
<rect width="1" height="1" fill="url(#g28)" vector-effect="non-scaling-stroke" transform="matrix(5.5 3.6 0 107.6 178 169.2)"/>
<rect width="1" height="1" fill="url(#g28)" vector-effect="non-scaling-stroke" transform="matrix(6.8 -2.6 0 107.6 183.5 172.8)"/>
<path d="M178 169.2L184.8 166.7L190.3 170.3L183.5 172.8Z" fill="#ffe800"/>
<rect width="1" height="1" fill="url(#g2)" vector-effect="non-scaling-stroke" transform="matrix(5.5 3.6 0 66.4 161 216.9)"/>
<rect width="1" height="1" fill="url(#g2)" vector-effect="non-scaling-stroke" transform="matrix(6.8 -2.6 0 66.4 166.6 220.5)"/>
<path d="M161 216.9L167.8 214.3L173.3 217.9L166.6 220.5Z" fill="#ff3000"/>
<rect width="1" height="1" fill="url(#g39)" vector-effect="non-scaling-stroke" transform="matrix(5.5 3.6 0 136.6 144.1 153.2)"/>
<rect width="1" height="1" fill="url(#g39)" vector-effect="non-scaling-stroke" transform="matrix(6.8 -2.6 0 136.6 149.6 156.8)"/>
<path d="M144.1 153.2L150.8 150.6L156.4 154.2L149.6 156.8Z" fill="#ffffa0"/>
<rect width="1" height="1" fill="url(#g38)" vector-effect="non-scaling-stroke" transform="matrix(5.5 3.6 0 127 312.4 105.7)"/>
<rect width="1" height="1" fill="url(#g38)" vector-effect="non-scaling-stroke" transform="matrix(6.8 -2.6 0 127 317.9 109.3)"/>
<path d="M312.4 105.7L319.2 103.1L324.7 106.7L317.9 109.3Z" fill="#ffff60"/>
<rect width="1" height="1" fill="url(#g25)" vector-effect="non-scaling-stroke" transform="matrix(5.5 3.6 0 104 295.4 135.2)"/>
<rect width="1" height="1" fill="url(#g25)" vector-effect="non-scaling-stroke" transform="matrix(6.8 -2.6 0 104 300.9 138.8)"/>
<path d="M295.4 135.2L302.2 132.6L307.7 136.2L300.9 138.8Z" fill="#ffd800"/>
<rect width="1" height="1" fill="url(#g23)" vector-effect="non-scaling-stroke" transform="matrix(5.5 3.6 0 102.2 278.4 143.5)"/>
<rect width="1" height="1" fill="url(#g23)" vector-effect="non-scaling-stroke" transform="matrix(6.8 -2.6 0 102.2 283.9 147.1)"/>
<path d="M278.4 143.5L285.2 140.9L290.7 144.5L283.9 147.1Z" fill="#ffd000"/>
<rect width="1" height="1" fill="url(#g32)" vector-effect="non-scaling-stroke" transform="matrix(5.5 3.6 0 112.7 261.4 139.4)"/>
<rect width="1" height="1" fill="url(#g32)" vector-effect="non-scaling-stroke" transform="matrix(6.8 -2.6 0 112.7 266.9 143)"/>
<path d="M261.4 139.4L268.2 136.8L273.7 140.4L266.9 143Z" fill="#ffff00"/>
<rect width="1" height="1" fill="url(#g32)" vector-effect="non-scaling-stroke" transform="matrix(5.5 3.6 0 112.7 244.4 145.9)"/>
<rect width="1" height="1" fill="url(#g32)" vector-effect="non-scaling-stroke" transform="matrix(6.8 -2.6 0 112.7 249.9 149.5)"/>
<path d="M244.4 145.9L251.2 143.3L256.7 146.9L249.9 149.5Z" fill="#ffff00"/>
<rect width="1" height="1" fill="url(#g28)" vector-effect="non-scaling-stroke" transform="matrix(5.5 3.6 0 107.6 227.4 157.5)"/>
<rect width="1" height="1" fill="url(#g28)" vector-effect="non-scaling-stroke" transform="matrix(6.8 -2.6 0 107.6 232.9 161.1)"/>
<path d="M227.4 157.5L234.2 154.9L239.7 158.5L232.9 161.1Z" fill="#ffe800"/>
<rect width="1" height="1" fill="url(#g34)" vector-effect="non-scaling-stroke" transform="matrix(5.5 3.6 0 117.5 210.4 154.1)"/>
<rect width="1" height="1" fill="url(#g34)" vector-effect="non-scaling-stroke" transform="matrix(6.8 -2.6 0 117.5 215.9 157.7)"/>
<path d="M210.4 154.1L217.2 151.5L222.7 155.1L215.9 157.7Z" fill="#ffff20"/>
<rect width="1" height="1" fill="url(#g32)" vector-effect="non-scaling-stroke" transform="matrix(5.5 3.6 0 112.7 193.4 165.4)"/>
<rect width="1" height="1" fill="url(#g32)" vector-effect="non-scaling-stroke" transform="matrix(6.8 -2.6 0 112.7 198.9 169)"/>
<path d="M193.4 165.4L200.2 162.8L205.7 166.4L198.9 169Z" fill="#ffff00"/>
<rect width="1" height="1" fill="url(#g26)" vector-effect="non-scaling-stroke" transform="matrix(5.5 3.6 0 105.8 176.4 178.8)"/>
<rect width="1" height="1" fill="url(#g26)" vector-effect="non-scaling-stroke" transform="matrix(6.8 -2.6 0 105.8 181.9 182.4)"/>
<path d="M176.4 178.8L183.2 176.2L188.7 179.8L181.9 182.4Z" fill="#ffe000"/>
<rect width="1" height="1" fill="url(#g0)" vector-effect="non-scaling-stroke" transform="matrix(5.5 3.6 0 62.8 159.4 228.2)"/>
<rect width="1" height="1" fill="url(#g0)" vector-effect="non-scaling-stroke" transform="matrix(6.8 -2.6 0 62.8 164.9 231.8)"/>
<path d="M159.4 228.2L166.2 225.6L171.7 229.2L164.9 231.8Z" fill="#ff2000"/>
<rect width="1" height="1" fill="url(#g31)" vector-effect="non-scaling-stroke" transform="matrix(5.5 3.6 0 146.1 142.4 151.4)"/>
<rect width="1" height="1" fill="url(#g31)" vector-effect="non-scaling-stroke" transform="matrix(6.8 -2.6 0 146.1 147.9 155)"/>
<path d="M142.4 151.4L149.2 148.8L154.7 152.4L147.9 155Z" fill="#fffde0"/>
<rect width="1" height="1" fill="url(#g43)" vector-effect="non-scaling-stroke" transform="matrix(5.5 3.6 0 143.7 327.7 90.2)"/>
<rect width="1" height="1" fill="url(#g43)" vector-effect="non-scaling-stroke" transform="matrix(6.8 -2.6 0 143.7 333.2 93.8)"/>
<path d="M327.7 90.2L334.5 87.6L340 91.2L333.2 93.8Z" fill="#ffffd0"/>
<rect width="1" height="1" fill="url(#g13)" vector-effect="non-scaling-stroke" transform="matrix(5.5 3.6 0 89.9 310.7 150.5)"/>
<rect width="1" height="1" fill="url(#g13)" vector-effect="non-scaling-stroke" transform="matrix(6.8 -2.6 0 89.9 316.3 154.1)"/>
<path d="M310.7 150.5L317.5 148L323 151.6L316.3 154.1Z" fill="#ff9900"/>
<rect width="1" height="1" fill="url(#g25)" vector-effect="non-scaling-stroke" transform="matrix(5.5 3.6 0 104 293.8 142.9)"/>
<rect width="1" height="1" fill="url(#g25)" vector-effect="non-scaling-stroke" transform="matrix(6.8 -2.6 0 104 299.3 146.5)"/>
<path d="M293.8 142.9L300.5 140.3L306.1 143.9L299.3 146.5Z" fill="#ffd800"/>
<rect width="1" height="1" fill="url(#g32)" vector-effect="non-scaling-stroke" transform="matrix(5.5 3.6 0 112.7 276.8 140.7)"/>
<rect width="1" height="1" fill="url(#g32)" vector-effect="non-scaling-stroke" transform="matrix(6.8 -2.6 0 112.7 282.3 144.3)"/>
<path d="M276.8 140.7L283.6 138.1L289.1 141.7L282.3 144.3Z" fill="#ffff00"/>
<rect width="1" height="1" fill="url(#g34)" vector-effect="non-scaling-stroke" transform="matrix(5.5 3.6 0 117.5 259.8 142.4)"/>
<rect width="1" height="1" fill="url(#g34)" vector-effect="non-scaling-stroke" transform="matrix(6.8 -2.6 0 117.5 265.3 146)"/>
<path d="M259.8 142.4L266.6 139.8L272.1 143.4L265.3 146Z" fill="#ffff20"/>
<rect width="1" height="1" fill="url(#g32)" vector-effect="non-scaling-stroke" transform="matrix(5.5 3.6 0 112.7 242.8 153.7)"/>
<rect width="1" height="1" fill="url(#g32)" vector-effect="non-scaling-stroke" transform="matrix(6.8 -2.6 0 112.7 248.3 157.3)"/>
<path d="M242.8 153.7L249.6 151.1L255.1 154.7L248.3 157.3Z" fill="#ffff00"/>
<rect width="1" height="1" fill="url(#g29)" vector-effect="non-scaling-stroke" transform="matrix(5.5 3.6 0 109.3 225.8 163.5)"/>
<rect width="1" height="1" fill="url(#g29)" vector-effect="non-scaling-stroke" transform="matrix(6.8 -2.6 0 109.3 231.3 167.1)"/>
<path d="M225.8 163.5L232.6 160.9L238.1 164.5L231.3 167.1Z" fill="#fff000"/>
<rect width="1" height="1" fill="url(#g32)" vector-effect="non-scaling-stroke" transform="matrix(5.5 3.6 0 112.7 208.8 166.6)"/>
<rect width="1" height="1" fill="url(#g32)" vector-effect="non-scaling-stroke" transform="matrix(6.8 -2.6 0 112.7 214.3 170.2)"/>
<path d="M208.8 166.6L215.6 164L221.1 167.6L214.3 170.2Z" fill="#ffff00"/>
<rect width="1" height="1" fill="url(#g32)" vector-effect="non-scaling-stroke" transform="matrix(5.5 3.6 0 112.7 191.8 173.1)"/>
<rect width="1" height="1" fill="url(#g32)" vector-effect="non-scaling-stroke" transform="matrix(6.8 -2.6 0 112.7 197.3 176.7)"/>
<path d="M191.8 173.1L198.6 170.5L204.1 174.1L197.3 176.7Z" fill="#ffff00"/>
<rect width="1" height="1" fill="url(#g30)" vector-effect="non-scaling-stroke" transform="matrix(5.5 3.6 0 111.1 174.8 181.2)"/>
<rect width="1" height="1" fill="url(#g30)" vector-effect="non-scaling-stroke" transform="matrix(6.8 -2.6 0 111.1 180.3 184.8)"/>
<path d="M174.8 181.2L181.6 178.6L187.1 182.2L180.3 184.8Z" fill="#fff800"/>
<rect width="1" height="1" fill="url(#g6)" vector-effect="non-scaling-stroke" transform="matrix(5.5 3.6 0 80.7 157.8 218.1)"/>
<rect width="1" height="1" fill="url(#g6)" vector-effect="non-scaling-stroke" transform="matrix(6.8 -2.6 0 80.7 163.3 221.7)"/>
<path d="M157.8 218.1L164.6 215.5L170.1 219.1L163.3 221.7Z" fill="#ff7000"/>
<rect width="1" height="1" fill="url(#g38)" vector-effect="non-scaling-stroke" transform="matrix(5.5 3.6 0 127 140.8 178.2)"/>
<rect width="1" height="1" fill="url(#g38)" vector-effect="non-scaling-stroke" transform="matrix(6.8 -2.6 0 127 146.3 181.8)"/>
<path d="M140.8 178.2L147.6 175.6L153.1 179.2L146.3 181.8Z" fill="#ffff60"/>
<rect width="1" height="1" fill="url(#g41)" vector-effect="non-scaling-stroke" transform="matrix(5.5 3.6 0 139 343.1 96.2)"/>
<rect width="1" height="1" fill="url(#g41)" vector-effect="non-scaling-stroke" transform="matrix(6.8 -2.6 0 139 348.6 99.8)"/>
<path d="M343.1 96.2L349.9 93.6L355.4 97.2L348.6 99.8Z" fill="#ffffb0"/>
<rect width="1" height="1" fill="url(#g10)" vector-effect="non-scaling-stroke" transform="matrix(5.5 3.6 0 86.1 326.1 155.6)"/>
<rect width="1" height="1" fill="url(#g10)" vector-effect="non-scaling-stroke" transform="matrix(6.8 -2.6 0 86.1 331.6 159.2)"/>
<path d="M326.1 155.6L332.9 153L338.4 156.6L331.6 159.2Z" fill="#ff8800"/>
<rect width="1" height="1" fill="url(#g29)" vector-effect="non-scaling-stroke" transform="matrix(5.5 3.6 0 109.3 309.1 138.8)"/>
<rect width="1" height="1" fill="url(#g29)" vector-effect="non-scaling-stroke" transform="matrix(6.8 -2.6 0 109.3 314.6 142.4)"/>
<path d="M309.1 138.8L315.9 136.2L321.4 139.8L314.6 142.4Z" fill="#fff000"/>
<rect width="1" height="1" fill="url(#g32)" vector-effect="non-scaling-stroke" transform="matrix(5.5 3.6 0 112.7 292.1 141.9)"/>
<rect width="1" height="1" fill="url(#g32)" vector-effect="non-scaling-stroke" transform="matrix(6.8 -2.6 0 112.7 297.6 145.5)"/>
<path d="M292.1 141.9L298.9 139.4L304.4 143L297.6 145.5Z" fill="#ffff00"/>
<rect width="1" height="1" fill="url(#g32)" vector-effect="non-scaling-stroke" transform="matrix(5.5 3.6 0 112.7 275.1 148.4)"/>
<rect width="1" height="1" fill="url(#g32)" vector-effect="non-scaling-stroke" transform="matrix(6.8 -2.6 0 112.7 280.7 152)"/>
<path d="M275.1 148.4L281.9 145.8L287.5 149.4L280.7 152Z" fill="#ffff00"/>
<rect width="1" height="1" fill="url(#g32)" vector-effect="non-scaling-stroke" transform="matrix(5.5 3.6 0 112.7 258.2 154.9)"/>
<rect width="1" height="1" fill="url(#g32)" vector-effect="non-scaling-stroke" transform="matrix(6.8 -2.6 0 112.7 263.7 158.5)"/>
<path d="M258.2 154.9L265 152.3L270.5 155.9L263.7 158.5Z" fill="#ffff00"/>
<rect width="1" height="1" fill="url(#g32)" vector-effect="non-scaling-stroke" transform="matrix(5.5 3.6 0 112.7 241.2 161.4)"/>
<rect width="1" height="1" fill="url(#g32)" vector-effect="non-scaling-stroke" transform="matrix(6.8 -2.6 0 112.7 246.7 165)"/>
<path d="M241.2 161.4L248 158.8L253.5 162.4L246.7 165Z" fill="#ffff00"/>
<rect width="1" height="1" fill="url(#g28)" vector-effect="non-scaling-stroke" transform="matrix(5.5 3.6 0 107.6 224.2 173)"/>
<rect width="1" height="1" fill="url(#g28)" vector-effect="non-scaling-stroke" transform="matrix(6.8 -2.6 0 107.6 229.7 176.6)"/>
<path d="M224.2 173L231 170.4L236.5 174L229.7 176.6Z" fill="#ffe800"/>
<rect width="1" height="1" fill="url(#g26)" vector-effect="non-scaling-stroke" transform="matrix(5.5 3.6 0 105.8 207.2 181.3)"/>
<rect width="1" height="1" fill="url(#g26)" vector-effect="non-scaling-stroke" transform="matrix(6.8 -2.6 0 105.8 212.7 184.9)"/>
<path d="M207.2 181.3L214 178.7L219.5 182.3L212.7 184.9Z" fill="#ffe000"/>
<rect width="1" height="1" fill="url(#g26)" vector-effect="non-scaling-stroke" transform="matrix(5.5 3.6 0 105.8 190.2 187.8)"/>
<rect width="1" height="1" fill="url(#g26)" vector-effect="non-scaling-stroke" transform="matrix(6.8 -2.6 0 105.8 195.7 191.4)"/>
<path d="M190.2 187.8L197 185.2L202.5 188.8L195.7 191.4Z" fill="#ffe000"/>
<rect width="1" height="1" fill="url(#g17)" vector-effect="non-scaling-stroke" transform="matrix(5.5 3.6 0 95 173.2 205)"/>
<rect width="1" height="1" fill="url(#g17)" vector-effect="non-scaling-stroke" transform="matrix(6.8 -2.6 0 95 178.7 208.6)"/>
<path d="M173.2 205L180 202.4L185.5 206L178.7 208.6Z" fill="#ffb000"/>
<rect width="1" height="1" fill="url(#g13)" vector-effect="non-scaling-stroke" transform="matrix(5.5 3.6 0 89.9 156.2 216.6)"/>
<rect width="1" height="1" fill="url(#g13)" vector-effect="non-scaling-stroke" transform="matrix(6.8 -2.6 0 89.9 161.7 220.2)"/>
<path d="M156.2 216.6L163 214L168.5 217.6L161.7 220.2Z" fill="#ff9900"/>
<rect width="1" height="1" fill="url(#g46)" vector-effect="non-scaling-stroke" transform="matrix(5.5 3.6 0 150.7 139.2 162.2)"/>
<rect width="1" height="1" fill="url(#g46)" vector-effect="non-scaling-stroke" transform="matrix(6.8 -2.6 0 150.7 144.7 165.8)"/>
<path d="M139.2 162.2L146 159.7L151.5 163.3L144.7 165.8Z" fill="#ffffff"/>
<rect width="1" height="1" fill="url(#g17)" vector-effect="non-scaling-stroke" transform="matrix(5.5 3.6 0 95 341.5 147.9)"/>
<rect width="1" height="1" fill="url(#g17)" vector-effect="non-scaling-stroke" transform="matrix(6.8 -2.6 0 95 347 151.5)"/>
<path d="M341.5 147.9L348.3 145.3L353.8 148.9L347 151.5Z" fill="#ffb000"/>
<rect width="1" height="1" fill="url(#g29)" vector-effect="non-scaling-stroke" transform="matrix(5.5 3.6 0 109.3 324.5 140.1)"/>
<rect width="1" height="1" fill="url(#g29)" vector-effect="non-scaling-stroke" transform="matrix(6.8 -2.6 0 109.3 330 143.7)"/>
<path d="M324.5 140.1L331.3 137.5L336.8 141.1L330 143.7Z" fill="#fff000"/>
<rect width="1" height="1" fill="url(#g35)" vector-effect="non-scaling-stroke" transform="matrix(5.5 3.6 0 119.9 307.5 136)"/>
<rect width="1" height="1" fill="url(#g35)" vector-effect="non-scaling-stroke" transform="matrix(6.8 -2.6 0 119.9 313 139.6)"/>
<path d="M307.5 136L314.3 133.4L319.8 137L313 139.6Z" fill="#ffff30"/>
<rect width="1" height="1" fill="url(#g32)" vector-effect="non-scaling-stroke" transform="matrix(5.5 3.6 0 112.7 290.5 149.7)"/>
<rect width="1" height="1" fill="url(#g32)" vector-effect="non-scaling-stroke" transform="matrix(6.8 -2.6 0 112.7 296 153.3)"/>
<path d="M290.5 149.7L297.3 147.1L302.8 150.7L296 153.3Z" fill="#ffff00"/>
<rect width="1" height="1" fill="url(#g34)" vector-effect="non-scaling-stroke" transform="matrix(5.5 3.6 0 117.5 273.5 151.4)"/>
<rect width="1" height="1" fill="url(#g34)" vector-effect="non-scaling-stroke" transform="matrix(6.8 -2.6 0 117.5 279 155)"/>
<path d="M273.5 151.4L280.3 148.8L285.8 152.4L279 155Z" fill="#ffff20"/>
<rect width="1" height="1" fill="url(#g32)" vector-effect="non-scaling-stroke" transform="matrix(5.5 3.6 0 112.7 256.5 162.7)"/>
<rect width="1" height="1" fill="url(#g32)" vector-effect="non-scaling-stroke" transform="matrix(6.8 -2.6 0 112.7 262.1 166.3)"/>
<path d="M256.5 162.7L263.3 160.1L268.8 163.7L262.1 166.3Z" fill="#ffff00"/>
<rect width="1" height="1" fill="url(#g34)" vector-effect="non-scaling-stroke" transform="matrix(5.5 3.6 0 117.5 239.6 164.4)"/>
<rect width="1" height="1" fill="url(#g34)" vector-effect="non-scaling-stroke" transform="matrix(6.8 -2.6 0 117.5 245.1 168)"/>
<path d="M239.6 164.4L246.3 161.8L251.9 165.4L245.1 168Z" fill="#ffff20"/>
<rect width="1" height="1" fill="url(#g32)" vector-effect="non-scaling-stroke" transform="matrix(5.5 3.6 0 112.7 222.6 175.6)"/>
<rect width="1" height="1" fill="url(#g32)" vector-effect="non-scaling-stroke" transform="matrix(6.8 -2.6 0 112.7 228.1 179.2)"/>
<path d="M222.6 175.6L229.4 173L234.9 176.6L228.1 179.2Z" fill="#ffff00"/>
<rect width="1" height="1" fill="url(#g32)" vector-effect="non-scaling-stroke" transform="matrix(5.5 3.6 0 112.7 205.6 182.1)"/>
<rect width="1" height="1" fill="url(#g32)" vector-effect="non-scaling-stroke" transform="matrix(6.8 -2.6 0 112.7 211.1 185.7)"/>
<path d="M205.6 182.1L212.4 179.5L217.9 183.1L211.1 185.7Z" fill="#ffff00"/>
<rect width="1" height="1" fill="url(#g25)" vector-effect="non-scaling-stroke" transform="matrix(5.5 3.6 0 104 188.6 197.3)"/>
<rect width="1" height="1" fill="url(#g25)" vector-effect="non-scaling-stroke" transform="matrix(6.8 -2.6 0 104 194.1 200.9)"/>
<path d="M188.6 197.3L195.4 194.7L200.9 198.3L194.1 200.9Z" fill="#ffd800"/>
<rect width="1" height="1" fill="url(#g20)" vector-effect="non-scaling-stroke" transform="matrix(5.5 3.6 0 98.6 171.6 209.2)"/>
<rect width="1" height="1" fill="url(#g20)" vector-effect="non-scaling-stroke" transform="matrix(6.8 -2.6 0 98.6 177.1 212.8)"/>
<path d="M171.6 209.2L178.4 206.6L183.9 210.2L177.1 212.8Z" fill="#ffc000"/>
<rect width="1" height="1" fill="url(#g8)" vector-effect="non-scaling-stroke" transform="matrix(5.5 3.6 0 82.5 154.6 231.8)"/>
<rect width="1" height="1" fill="url(#g8)" vector-effect="non-scaling-stroke" transform="matrix(6.8 -2.6 0 82.5 160.1 235.4)"/>
<path d="M154.6 231.8L161.4 229.2L166.9 232.8L160.1 235.4Z" fill="#ff7800"/>
<rect width="1" height="1" fill="url(#g6)" vector-effect="non-scaling-stroke" transform="matrix(5.5 3.6 0 80.7 356.9 163.5)"/>
<rect width="1" height="1" fill="url(#g6)" vector-effect="non-scaling-stroke" transform="matrix(6.8 -2.6 0 80.7 362.4 167.1)"/>
<path d="M356.9 163.5L363.7 160.9L369.2 164.5L362.4 167.1Z" fill="#ff7000"/>
<rect width="1" height="1" fill="url(#g36)" vector-effect="non-scaling-stroke" transform="matrix(5.5 3.6 0 122.3 339.9 128.4)"/>
<rect width="1" height="1" fill="url(#g36)" vector-effect="non-scaling-stroke" transform="matrix(6.8 -2.6 0 122.3 345.4 132)"/>
<path d="M339.9 128.4L346.7 125.8L352.2 129.4L345.4 132Z" fill="#ffff40"/>
<rect width="1" height="1" fill="url(#g35)" vector-effect="non-scaling-stroke" transform="matrix(5.5 3.6 0 119.9 322.9 137.3)"/>
<rect width="1" height="1" fill="url(#g35)" vector-effect="non-scaling-stroke" transform="matrix(6.8 -2.6 0 119.9 328.4 140.9)"/>
<path d="M322.9 137.3L329.7 134.7L335.2 138.3L328.4 140.9Z" fill="#ffff30"/>
<rect width="1" height="1" fill="url(#g32)" vector-effect="non-scaling-stroke" transform="matrix(5.5 3.6 0 112.7 305.9 150.9)"/>
<rect width="1" height="1" fill="url(#g32)" vector-effect="non-scaling-stroke" transform="matrix(6.8 -2.6 0 112.7 311.4 154.5)"/>
<path d="M305.9 150.9L312.7 148.4L318.2 152L311.4 154.5Z" fill="#ffff00"/>
<rect width="1" height="1" fill="url(#g32)" vector-effect="non-scaling-stroke" transform="matrix(5.5 3.6 0 112.7 288.9 157.4)"/>
<rect width="1" height="1" fill="url(#g32)" vector-effect="non-scaling-stroke" transform="matrix(6.8 -2.6 0 112.7 294.4 161)"/>
<path d="M288.9 157.4L295.7 154.8L301.2 158.4L294.4 161Z" fill="#ffff00"/>
<rect width="1" height="1" fill="url(#g32)" vector-effect="non-scaling-stroke" transform="matrix(5.5 3.6 0 112.7 271.9 163.9)"/>
<rect width="1" height="1" fill="url(#g32)" vector-effect="non-scaling-stroke" transform="matrix(6.8 -2.6 0 112.7 277.4 167.5)"/>
<path d="M271.9 163.9L278.7 161.3L284.2 164.9L277.4 167.5Z" fill="#ffff00"/>
<rect width="1" height="1" fill="url(#g32)" vector-effect="non-scaling-stroke" transform="matrix(5.5 3.6 0 112.7 254.9 170.4)"/>
<rect width="1" height="1" fill="url(#g32)" vector-effect="non-scaling-stroke" transform="matrix(6.8 -2.6 0 112.7 260.4 174)"/>
<path d="M254.9 170.4L261.7 167.8L267.2 171.4L260.4 174Z" fill="#ffff00"/>
<rect width="1" height="1" fill="url(#g29)" vector-effect="non-scaling-stroke" transform="matrix(5.5 3.6 0 109.3 237.9 180.2)"/>
<rect width="1" height="1" fill="url(#g29)" vector-effect="non-scaling-stroke" transform="matrix(6.8 -2.6 0 109.3 243.4 183.8)"/>
<path d="M237.9 180.2L244.7 177.6L250.2 181.2L243.4 183.8Z" fill="#fff000"/>
<rect width="1" height="1" fill="url(#g28)" vector-effect="non-scaling-stroke" transform="matrix(5.5 3.6 0 107.6 220.9 188.5)"/>
<rect width="1" height="1" fill="url(#g28)" vector-effect="non-scaling-stroke" transform="matrix(6.8 -2.6 0 107.6 226.5 192.1)"/>
<path d="M220.9 188.5L227.7 185.9L233.3 189.5L226.5 192.1Z" fill="#ffe800"/>
<rect width="1" height="1" fill="url(#g35)" vector-effect="non-scaling-stroke" transform="matrix(5.5 3.6 0 119.9 204 182.7)"/>
<rect width="1" height="1" fill="url(#g35)" vector-effect="non-scaling-stroke" transform="matrix(6.8 -2.6 0 119.9 209.5 186.3)"/>
<path d="M204 182.7L210.8 180.1L216.3 183.7L209.5 186.3Z" fill="#ffff30"/>
<rect width="1" height="1" fill="url(#g26)" vector-effect="non-scaling-stroke" transform="matrix(5.5 3.6 0 105.8 187 203.3)"/>
<rect width="1" height="1" fill="url(#g26)" vector-effect="non-scaling-stroke" transform="matrix(6.8 -2.6 0 105.8 192.5 206.9)"/>
<path d="M187 203.3L193.8 200.7L199.3 204.3L192.5 206.9Z" fill="#ffe000"/>
<rect width="1" height="1" fill="url(#g23)" vector-effect="non-scaling-stroke" transform="matrix(5.5 3.6 0 102.2 170 213.3)"/>
<rect width="1" height="1" fill="url(#g23)" vector-effect="non-scaling-stroke" transform="matrix(6.8 -2.6 0 102.2 175.5 216.9)"/>
<path d="M170 213.3L176.8 210.7L182.3 214.3L175.5 216.9Z" fill="#ffd000"/>
<rect width="1" height="1" fill="url(#g4)" vector-effect="non-scaling-stroke" transform="matrix(5.5 3.6 0 68.2 153 253.8)"/>
<rect width="1" height="1" fill="url(#g4)" vector-effect="non-scaling-stroke" transform="matrix(6.8 -2.6 0 68.2 158.5 257.4)"/>
<path d="M153 253.8L159.8 251.2L165.3 254.8L158.5 257.4Z" fill="#ff3800"/>
<rect width="1" height="1" fill="url(#g25)" vector-effect="non-scaling-stroke" transform="matrix(5.5 3.6 0 104 355.3 148)"/>
<rect width="1" height="1" fill="url(#g25)" vector-effect="non-scaling-stroke" transform="matrix(6.8 -2.6 0 104 360.8 151.6)"/>
<path d="M355.3 148L362.1 145.4L367.6 149L360.8 151.6Z" fill="#ffd800"/>
<rect width="1" height="1" fill="url(#g32)" vector-effect="non-scaling-stroke" transform="matrix(5.5 3.6 0 112.7 338.3 145.7)"/>
<rect width="1" height="1" fill="url(#g32)" vector-effect="non-scaling-stroke" transform="matrix(6.8 -2.6 0 112.7 343.8 149.3)"/>
<path d="M338.3 145.7L345.1 143.1L350.6 146.7L343.8 149.3Z" fill="#ffff00"/>
<rect width="1" height="1" fill="url(#g35)" vector-effect="non-scaling-stroke" transform="matrix(5.5 3.6 0 119.9 321.3 145)"/>
<rect width="1" height="1" fill="url(#g35)" vector-effect="non-scaling-stroke" transform="matrix(6.8 -2.6 0 119.9 326.8 148.6)"/>
<path d="M321.3 145L328.1 142.4L333.6 146L326.8 148.6Z" fill="#ffff30"/>
<rect width="1" height="1" fill="url(#g32)" vector-effect="non-scaling-stroke" transform="matrix(5.5 3.6 0 112.7 304.3 158.7)"/>
<rect width="1" height="1" fill="url(#g32)" vector-effect="non-scaling-stroke" transform="matrix(6.8 -2.6 0 112.7 309.8 162.3)"/>
<path d="M304.3 158.7L311.1 156.1L316.6 159.7L309.8 162.3Z" fill="#ffff00"/>
<rect width="1" height="1" fill="url(#g26)" vector-effect="non-scaling-stroke" transform="matrix(5.5 3.6 0 105.8 287.3 172.1)"/>
<rect width="1" height="1" fill="url(#g26)" vector-effect="non-scaling-stroke" transform="matrix(6.8 -2.6 0 105.8 292.8 175.7)"/>
<path d="M287.3 172.1L294.1 169.5L299.6 173.1L292.8 175.7Z" fill="#ffe000"/>
<rect width="1" height="1" fill="url(#g32)" vector-effect="non-scaling-stroke" transform="matrix(5.5 3.6 0 112.7 270.3 171.7)"/>
<rect width="1" height="1" fill="url(#g32)" vector-effect="non-scaling-stroke" transform="matrix(6.8 -2.6 0 112.7 275.8 175.3)"/>
<path d="M270.3 171.7L277.1 169.1L282.6 172.7L275.8 175.3Z" fill="#ffff00"/>
<rect width="1" height="1" fill="url(#g32)" vector-effect="non-scaling-stroke" transform="matrix(5.5 3.6 0 112.7 253.3 178.1)"/>
<rect width="1" height="1" fill="url(#g32)" vector-effect="non-scaling-stroke" transform="matrix(6.8 -2.6 0 112.7 258.8 181.7)"/>
<path d="M253.3 178.1L260.1 175.5L265.6 179.1L258.8 181.7Z" fill="#ffff00"/>
<rect width="1" height="1" fill="url(#g32)" vector-effect="non-scaling-stroke" transform="matrix(5.5 3.6 0 112.7 236.3 184.6)"/>
<rect width="1" height="1" fill="url(#g32)" vector-effect="non-scaling-stroke" transform="matrix(6.8 -2.6 0 112.7 241.8 188.2)"/>
<path d="M236.3 184.6L243.1 182L248.6 185.6L241.8 188.2Z" fill="#ffff00"/>
<rect width="1" height="1" fill="url(#g32)" vector-effect="non-scaling-stroke" transform="matrix(5.5 3.6 0 112.7 219.3 191.1)"/>
<rect width="1" height="1" fill="url(#g32)" vector-effect="non-scaling-stroke" transform="matrix(6.8 -2.6 0 112.7 224.8 194.7)"/>
<path d="M219.3 191.1L226.1 188.5L231.6 192.1L224.8 194.7Z" fill="#ffff00"/>
<rect width="1" height="1" fill="url(#g32)" vector-effect="non-scaling-stroke" transform="matrix(5.5 3.6 0 112.7 202.3 197.6)"/>
<rect width="1" height="1" fill="url(#g32)" vector-effect="non-scaling-stroke" transform="matrix(6.8 -2.6 0 112.7 207.9 201.2)"/>
<path d="M202.3 197.6L209.1 195L214.6 198.6L207.9 201.2Z" fill="#ffff00"/>
<rect width="1" height="1" fill="url(#g23)" vector-effect="non-scaling-stroke" transform="matrix(5.5 3.6 0 102.2 185.4 214.6)"/>
<rect width="1" height="1" fill="url(#g23)" vector-effect="non-scaling-stroke" transform="matrix(6.8 -2.6 0 102.2 190.9 218.2)"/>
<path d="M185.4 214.6L192.1 212L197.7 215.6L190.9 218.2Z" fill="#ffd000"/>
<rect width="1" height="1" fill="url(#g13)" vector-effect="non-scaling-stroke" transform="matrix(5.5 3.6 0 89.9 168.4 233.4)"/>
<rect width="1" height="1" fill="url(#g13)" vector-effect="non-scaling-stroke" transform="matrix(6.8 -2.6 0 89.9 173.9 237)"/>
<path d="M168.4 233.4L175.2 230.8L180.7 234.4L173.9 237Z" fill="#ff9900"/>
<rect width="1" height="1" fill="url(#g22)" vector-effect="non-scaling-stroke" transform="matrix(5.5 3.6 0 100.4 370.6 152.8)"/>
<rect width="1" height="1" fill="url(#g22)" vector-effect="non-scaling-stroke" transform="matrix(6.8 -2.6 0 100.4 376.2 156.4)"/>
<path d="M370.6 152.8L377.4 150.2L383 153.8L376.2 156.4Z" fill="#ffc800"/>
<rect width="1" height="1" fill="url(#g26)" vector-effect="non-scaling-stroke" transform="matrix(5.5 3.6 0 105.8 353.7 153.9)"/>
<rect width="1" height="1" fill="url(#g26)" vector-effect="non-scaling-stroke" transform="matrix(6.8 -2.6 0 105.8 359.2 157.5)"/>
<path d="M353.7 153.9L360.5 151.3L366 154.9L359.2 157.5Z" fill="#ffe000"/>
<rect width="1" height="1" fill="url(#g29)" vector-effect="non-scaling-stroke" transform="matrix(5.5 3.6 0 109.3 336.7 156.8)"/>
<rect width="1" height="1" fill="url(#g29)" vector-effect="non-scaling-stroke" transform="matrix(6.8 -2.6 0 109.3 342.2 160.4)"/>
<path d="M336.7 156.8L343.5 154.2L349 157.8L342.2 160.4Z" fill="#fff000"/>
<rect width="1" height="1" fill="url(#g26)" vector-effect="non-scaling-stroke" transform="matrix(5.5 3.6 0 105.8 319.7 166.9)"/>
<rect width="1" height="1" fill="url(#g26)" vector-effect="non-scaling-stroke" transform="matrix(6.8 -2.6 0 105.8 325.2 170.5)"/>
<path d="M319.7 166.9L326.5 164.3L332 167.9L325.2 170.5Z" fill="#ffe000"/>
<rect width="1" height="1" fill="url(#g32)" vector-effect="non-scaling-stroke" transform="matrix(5.5 3.6 0 112.7 302.7 166.4)"/>
<rect width="1" height="1" fill="url(#g32)" vector-effect="non-scaling-stroke" transform="matrix(6.8 -2.6 0 112.7 308.2 170)"/>
<path d="M302.7 166.4L309.5 163.8L315 167.4L308.2 170Z" fill="#ffff00"/>
<rect width="1" height="1" fill="url(#g28)" vector-effect="non-scaling-stroke" transform="matrix(5.5 3.6 0 107.6 285.7 178.1)"/>
<rect width="1" height="1" fill="url(#g28)" vector-effect="non-scaling-stroke" transform="matrix(6.8 -2.6 0 107.6 291.2 181.7)"/>
<path d="M285.7 178.1L292.5 175.5L298 179.1L291.2 181.7Z" fill="#ffe800"/>
<rect width="1" height="1" fill="url(#g32)" vector-effect="non-scaling-stroke" transform="matrix(5.5 3.6 0 112.7 268.7 179.4)"/>
<rect width="1" height="1" fill="url(#g32)" vector-effect="non-scaling-stroke" transform="matrix(6.8 -2.6 0 112.7 274.2 183)"/>
<path d="M268.7 179.4L275.5 176.8L281 180.4L274.2 183Z" fill="#ffff00"/>
<rect width="1" height="1" fill="url(#g33)" vector-effect="non-scaling-stroke" transform="matrix(5.5 3.6 0 115.1 251.7 183.5)"/>
<rect width="1" height="1" fill="url(#g33)" vector-effect="non-scaling-stroke" transform="matrix(6.8 -2.6 0 115.1 257.2 187.1)"/>
<path d="M251.7 183.5L258.5 180.9L264 184.5L257.2 187.1Z" fill="#ffff10"/>
<rect width="1" height="1" fill="url(#g32)" vector-effect="non-scaling-stroke" transform="matrix(5.5 3.6 0 112.7 234.7 192.4)"/>
<rect width="1" height="1" fill="url(#g32)" vector-effect="non-scaling-stroke" transform="matrix(6.8 -2.6 0 112.7 240.2 196)"/>
<path d="M234.7 192.4L241.5 189.8L247 193.4L240.2 196Z" fill="#ffff00"/>
<rect width="1" height="1" fill="url(#g25)" vector-effect="non-scaling-stroke" transform="matrix(5.5 3.6 0 104 217.7 207.6)"/>
<rect width="1" height="1" fill="url(#g25)" vector-effect="non-scaling-stroke" transform="matrix(6.8 -2.6 0 104 223.2 211.2)"/>
<path d="M217.7 207.6L224.5 205L230 208.6L223.2 211.2Z" fill="#ffd800"/>
<rect width="1" height="1" fill="url(#g32)" vector-effect="non-scaling-stroke" transform="matrix(5.5 3.6 0 112.7 200.7 205.3)"/>
<rect width="1" height="1" fill="url(#g32)" vector-effect="non-scaling-stroke" transform="matrix(6.8 -2.6 0 112.7 206.2 208.9)"/>
<path d="M200.7 205.3L207.5 202.7L213 206.3L206.2 208.9Z" fill="#ffff00"/>
<rect width="1" height="1" fill="url(#g21)" vector-effect="non-scaling-stroke" transform="matrix(5.5 3.6 0 99.5 183.7 225)"/>
<rect width="1" height="1" fill="url(#g21)" vector-effect="non-scaling-stroke" transform="matrix(6.8 -2.6 0 99.5 189.2 228.6)"/>
<path d="M183.7 225L190.5 222.4L196 226L189.2 228.6Z" fill="#ffc400"/>
<rect width="1" height="1" fill="url(#g18)" vector-effect="non-scaling-stroke" transform="matrix(5.5 3.6 0 96.8 166.7 234.2)"/>
<rect width="1" height="1" fill="url(#g18)" vector-effect="non-scaling-stroke" transform="matrix(6.8 -2.6 0 96.8 172.3 237.8)"/>
<path d="M166.7 234.2L173.5 231.6L179.1 235.2L172.3 237.8Z" fill="#ffb800"/>
<rect width="1" height="1" fill="url(#g22)" vector-effect="non-scaling-stroke" transform="matrix(5.5 3.6 0 100.4 369 160.5)"/>
<rect width="1" height="1" fill="url(#g22)" vector-effect="non-scaling-stroke" transform="matrix(6.8 -2.6 0 100.4 374.5 164.1)"/>
<path d="M369 160.5L375.8 158L381.3 161.6L374.5 164.1Z" fill="#ffc800"/>
<rect width="1" height="1" fill="url(#g32)" vector-effect="non-scaling-stroke" transform="matrix(5.5 3.6 0 112.7 352 154.7)"/>
<rect width="1" height="1" fill="url(#g32)" vector-effect="non-scaling-stroke" transform="matrix(6.8 -2.6 0 112.7 357.6 158.3)"/>
<path d="M352 154.7L358.8 152.1L364.3 155.7L357.6 158.3Z" fill="#ffff00"/>
<rect width="1" height="1" fill="url(#g32)" vector-effect="non-scaling-stroke" transform="matrix(5.5 3.6 0 112.7 335.1 161.2)"/>
<rect width="1" height="1" fill="url(#g32)" vector-effect="non-scaling-stroke" transform="matrix(6.8 -2.6 0 112.7 340.6 164.8)"/>
<path d="M335.1 161.2L341.8 158.6L347.4 162.2L340.6 164.8Z" fill="#ffff00"/>
<rect width="1" height="1" fill="url(#g29)" vector-effect="non-scaling-stroke" transform="matrix(5.5 3.6 0 109.3 318.1 171)"/>
<rect width="1" height="1" fill="url(#g29)" vector-effect="non-scaling-stroke" transform="matrix(6.8 -2.6 0 109.3 323.6 174.6)"/>
<path d="M318.1 171L324.9 168.4L330.4 172L323.6 174.6Z" fill="#fff000"/>
<rect width="1" height="1" fill="url(#g23)" vector-effect="non-scaling-stroke" transform="matrix(5.5 3.6 0 102.2 301.1 184.7)"/>
<rect width="1" height="1" fill="url(#g23)" vector-effect="non-scaling-stroke" transform="matrix(6.8 -2.6 0 102.2 306.6 188.3)"/>
<path d="M301.1 184.7L307.9 182.1L313.4 185.7L306.6 188.3Z" fill="#ffd000"/>
<rect width="1" height="1" fill="url(#g32)" vector-effect="non-scaling-stroke" transform="matrix(5.5 3.6 0 112.7 284.1 180.7)"/>
<rect width="1" height="1" fill="url(#g32)" vector-effect="non-scaling-stroke" transform="matrix(6.8 -2.6 0 112.7 289.6 184.3)"/>
<path d="M284.1 180.7L290.9 178.1L296.4 181.7L289.6 184.3Z" fill="#ffff00"/>
<rect width="1" height="1" fill="url(#g34)" vector-effect="non-scaling-stroke" transform="matrix(5.5 3.6 0 117.5 267.1 182.4)"/>
<rect width="1" height="1" fill="url(#g34)" vector-effect="non-scaling-stroke" transform="matrix(6.8 -2.6 0 117.5 272.6 186)"/>
<path d="M267.1 182.4L273.9 179.8L279.4 183.4L272.6 186Z" fill="#ffff20"/>
<rect width="1" height="1" fill="url(#g32)" vector-effect="non-scaling-stroke" transform="matrix(5.5 3.6 0 112.7 250.1 193.6)"/>
<rect width="1" height="1" fill="url(#g32)" vector-effect="non-scaling-stroke" transform="matrix(6.8 -2.6 0 112.7 255.6 197.2)"/>
<path d="M250.1 193.6L256.9 191L262.4 194.6L255.6 197.2Z" fill="#ffff00"/>
<rect width="1" height="1" fill="url(#g26)" vector-effect="non-scaling-stroke" transform="matrix(5.5 3.6 0 105.8 233.1 207)"/>
<rect width="1" height="1" fill="url(#g26)" vector-effect="non-scaling-stroke" transform="matrix(6.8 -2.6 0 105.8 238.6 210.6)"/>
<path d="M233.1 207L239.9 204.4L245.4 208L238.6 210.6Z" fill="#ffe000"/>
<rect width="1" height="1" fill="url(#g25)" vector-effect="non-scaling-stroke" transform="matrix(5.5 3.6 0 104 216.1 215.3)"/>
<rect width="1" height="1" fill="url(#g25)" vector-effect="non-scaling-stroke" transform="matrix(6.8 -2.6 0 104 221.6 218.9)"/>
<path d="M216.1 215.3L222.9 212.7L228.4 216.3L221.6 218.9Z" fill="#ffd800"/>
<rect width="1" height="1" fill="url(#g25)" vector-effect="non-scaling-stroke" transform="matrix(5.5 3.6 0 104 199.1 221.8)"/>
<rect width="1" height="1" fill="url(#g25)" vector-effect="non-scaling-stroke" transform="matrix(6.8 -2.6 0 104 204.6 225.4)"/>
<path d="M199.1 221.8L205.9 219.2L211.4 222.8L204.6 225.4Z" fill="#ffd800"/>
<rect width="1" height="1" fill="url(#g23)" vector-effect="non-scaling-stroke" transform="matrix(5.5 3.6 0 102.2 182.1 230.1)"/>
<rect width="1" height="1" fill="url(#g23)" vector-effect="non-scaling-stroke" transform="matrix(6.8 -2.6 0 102.2 187.6 233.7)"/>
<path d="M182.1 230.1L188.9 227.5L194.4 231.1L187.6 233.7Z" fill="#ffd000"/>
<rect width="1" height="1" fill="url(#g18)" vector-effect="non-scaling-stroke" transform="matrix(5.5 3.6 0 96.8 384.4 165.4)"/>
<rect width="1" height="1" fill="url(#g18)" vector-effect="non-scaling-stroke" transform="matrix(6.8 -2.6 0 96.8 389.9 169)"/>
<path d="M384.4 165.4L391.2 162.8L396.7 166.4L389.9 169Z" fill="#ffb800"/>
<rect width="1" height="1" fill="url(#g26)" vector-effect="non-scaling-stroke" transform="matrix(5.5 3.6 0 105.8 367.4 162.9)"/>
<rect width="1" height="1" fill="url(#g26)" vector-effect="non-scaling-stroke" transform="matrix(6.8 -2.6 0 105.8 372.9 166.5)"/>
<path d="M367.4 162.9L374.2 160.3L379.7 163.9L372.9 166.5Z" fill="#ffe000"/>
<rect width="1" height="1" fill="url(#g35)" vector-effect="non-scaling-stroke" transform="matrix(5.5 3.6 0 119.9 350.4 155.3)"/>
<rect width="1" height="1" fill="url(#g35)" vector-effect="non-scaling-stroke" transform="matrix(6.8 -2.6 0 119.9 355.9 158.9)"/>
<path d="M350.4 155.3L357.2 152.7L362.7 156.3L355.9 158.9Z" fill="#ffff30"/>
<rect width="1" height="1" fill="url(#g36)" vector-effect="non-scaling-stroke" transform="matrix(5.5 3.6 0 122.3 333.4 159.4)"/>
<rect width="1" height="1" fill="url(#g36)" vector-effect="non-scaling-stroke" transform="matrix(6.8 -2.6 0 122.3 338.9 163)"/>
<path d="M333.4 159.4L340.2 156.8L345.7 160.4L338.9 163Z" fill="#ffff40"/>
<rect width="1" height="1" fill="url(#g33)" vector-effect="non-scaling-stroke" transform="matrix(5.5 3.6 0 115.1 316.4 173)"/>
<rect width="1" height="1" fill="url(#g33)" vector-effect="non-scaling-stroke" transform="matrix(6.8 -2.6 0 115.1 322 176.6)"/>
<path d="M316.4 173L323.2 170.4L328.8 174L322 176.6Z" fill="#ffff10"/>
<rect width="1" height="1" fill="url(#g25)" vector-effect="non-scaling-stroke" transform="matrix(5.5 3.6 0 104 299.5 190.6)"/>
<rect width="1" height="1" fill="url(#g25)" vector-effect="non-scaling-stroke" transform="matrix(6.8 -2.6 0 104 305 194.2)"/>
<path d="M299.5 190.6L306.3 188L311.8 191.6L305 194.2Z" fill="#ffd800"/>
<rect width="1" height="1" fill="url(#g32)" vector-effect="non-scaling-stroke" transform="matrix(5.5 3.6 0 112.7 282.5 188.4)"/>
<rect width="1" height="1" fill="url(#g32)" vector-effect="non-scaling-stroke" transform="matrix(6.8 -2.6 0 112.7 288 192)"/>
<path d="M282.5 188.4L289.3 185.8L294.8 189.4L288 192Z" fill="#ffff00"/>
<rect width="1" height="1" fill="url(#g29)" vector-effect="non-scaling-stroke" transform="matrix(5.5 3.6 0 109.3 265.5 198.2)"/>
<rect width="1" height="1" fill="url(#g29)" vector-effect="non-scaling-stroke" transform="matrix(6.8 -2.6 0 109.3 271 201.8)"/>
<path d="M265.5 198.2L272.3 195.6L277.8 199.2L271 201.8Z" fill="#fff000"/>
<rect width="1" height="1" fill="url(#g29)" vector-effect="non-scaling-stroke" transform="matrix(5.5 3.6 0 109.3 248.5 204.7)"/>
<rect width="1" height="1" fill="url(#g29)" vector-effect="non-scaling-stroke" transform="matrix(6.8 -2.6 0 109.3 254 208.3)"/>
<path d="M248.5 204.7L255.3 202.1L260.8 205.7L254 208.3Z" fill="#fff000"/>
<rect width="1" height="1" fill="url(#g18)" vector-effect="non-scaling-stroke" transform="matrix(5.5 3.6 0 96.8 231.5 223.7)"/>
<rect width="1" height="1" fill="url(#g18)" vector-effect="non-scaling-stroke" transform="matrix(6.8 -2.6 0 96.8 237 227.3)"/>
<path d="M231.5 223.7L238.3 221.1L243.8 224.7L237 227.3Z" fill="#ffb800"/>
<rect width="1" height="1" fill="url(#g23)" vector-effect="non-scaling-stroke" transform="matrix(5.5 3.6 0 102.2 214.5 224.8)"/>
<rect width="1" height="1" fill="url(#g23)" vector-effect="non-scaling-stroke" transform="matrix(6.8 -2.6 0 102.2 220 228.4)"/>
<path d="M214.5 224.8L221.3 222.3L226.8 225.9L220 228.4Z" fill="#ffd000"/>
<rect width="1" height="1" fill="url(#g23)" vector-effect="non-scaling-stroke" transform="matrix(5.5 3.6 0 102.2 197.5 231.3)"/>
<rect width="1" height="1" fill="url(#g23)" vector-effect="non-scaling-stroke" transform="matrix(6.8 -2.6 0 102.2 203 234.9)"/>
<path d="M197.5 231.3L204.3 228.7L209.8 232.3L203 234.9Z" fill="#ffd000"/>
<rect width="1" height="1" fill="url(#g15)" vector-effect="non-scaling-stroke" transform="matrix(5.5 3.6 0 93.2 180.5 246.8)"/>
<rect width="1" height="1" fill="url(#g15)" vector-effect="non-scaling-stroke" transform="matrix(6.8 -2.6 0 93.2 186 250.4)"/>
<path d="M180.5 246.8L187.3 244.2L192.8 247.8L186 250.4Z" fill="#ffa800"/>
<rect width="1" height="1" fill="url(#g29)" vector-effect="non-scaling-stroke" transform="matrix(5.5 3.6 0 109.3 365.8 167.1)"/>
<rect width="1" height="1" fill="url(#g29)" vector-effect="non-scaling-stroke" transform="matrix(6.8 -2.6 0 109.3 371.3 170.7)"/>
<path d="M365.8 167.1L372.6 164.5L378.1 168.1L371.3 170.7Z" fill="#fff000"/>
<rect width="1" height="1" fill="url(#g33)" vector-effect="non-scaling-stroke" transform="matrix(5.5 3.6 0 115.1 348.8 167.8)"/>
<rect width="1" height="1" fill="url(#g33)" vector-effect="non-scaling-stroke" transform="matrix(6.8 -2.6 0 115.1 354.3 171.4)"/>
<path d="M348.8 167.8L355.6 165.2L361.1 168.8L354.3 171.4Z" fill="#ffff10"/>
<rect width="1" height="1" fill="url(#g37)" vector-effect="non-scaling-stroke" transform="matrix(5.5 3.6 0 124.6 331.8 164.8)"/>
<rect width="1" height="1" fill="url(#g37)" vector-effect="non-scaling-stroke" transform="matrix(6.8 -2.6 0 124.6 337.3 168.4)"/>
<path d="M331.8 164.8L338.6 162.2L344.1 165.8L337.3 168.4Z" fill="#ffff50"/>
<rect width="1" height="1" fill="url(#g32)" vector-effect="non-scaling-stroke" transform="matrix(5.5 3.6 0 112.7 314.8 183.2)"/>
<rect width="1" height="1" fill="url(#g32)" vector-effect="non-scaling-stroke" transform="matrix(6.8 -2.6 0 112.7 320.3 186.8)"/>
<path d="M314.8 183.2L321.6 180.6L327.1 184.2L320.3 186.8Z" fill="#ffff00"/>
<rect width="1" height="1" fill="url(#g37)" vector-effect="non-scaling-stroke" transform="matrix(5.5 3.6 0 124.6 297.8 177.7)"/>
<rect width="1" height="1" fill="url(#g37)" vector-effect="non-scaling-stroke" transform="matrix(6.8 -2.6 0 124.6 303.4 181.3)"/>
<path d="M297.8 177.7L304.6 175.1L310.1 178.7L303.4 181.3Z" fill="#ffff50"/>
<rect width="1" height="1" fill="url(#g32)" vector-effect="non-scaling-stroke" transform="matrix(5.5 3.6 0 112.7 280.9 196.1)"/>
<rect width="1" height="1" fill="url(#g32)" vector-effect="non-scaling-stroke" transform="matrix(6.8 -2.6 0 112.7 286.4 199.7)"/>
<path d="M280.9 196.1L287.6 193.5L293.2 197.1L286.4 199.7Z" fill="#ffff00"/>
<rect width="1" height="1" fill="url(#g34)" vector-effect="non-scaling-stroke" transform="matrix(5.5 3.6 0 117.5 263.9 197.8)"/>
<rect width="1" height="1" fill="url(#g34)" vector-effect="non-scaling-stroke" transform="matrix(6.8 -2.6 0 117.5 269.4 201.4)"/>
<path d="M263.9 197.8L270.7 195.3L276.2 198.9L269.4 201.4Z" fill="#ffff20"/>
<rect width="1" height="1" fill="url(#g26)" vector-effect="non-scaling-stroke" transform="matrix(5.5 3.6 0 105.8 246.9 216)"/>
<rect width="1" height="1" fill="url(#g26)" vector-effect="non-scaling-stroke" transform="matrix(6.8 -2.6 0 105.8 252.4 219.6)"/>
<path d="M246.9 216L253.7 213.4L259.2 217L252.4 219.6Z" fill="#ffe000"/>
<rect width="1" height="1" fill="url(#g25)" vector-effect="non-scaling-stroke" transform="matrix(5.5 3.6 0 104 229.9 224.3)"/>
<rect width="1" height="1" fill="url(#g25)" vector-effect="non-scaling-stroke" transform="matrix(6.8 -2.6 0 104 235.4 227.9)"/>
<path d="M229.9 224.3L236.7 221.7L242.2 225.3L235.4 227.9Z" fill="#ffd800"/>
<rect width="1" height="1" fill="url(#g18)" vector-effect="non-scaling-stroke" transform="matrix(5.5 3.6 0 96.8 212.9 238)"/>
<rect width="1" height="1" fill="url(#g18)" vector-effect="non-scaling-stroke" transform="matrix(6.8 -2.6 0 96.8 218.4 241.6)"/>
<path d="M212.9 238L219.7 235.4L225.2 239L218.4 241.6Z" fill="#ffb800"/>
<rect width="1" height="1" fill="url(#g6)" vector-effect="non-scaling-stroke" transform="matrix(5.5 3.6 0 80.7 195.9 260.6)"/>
<rect width="1" height="1" fill="url(#g6)" vector-effect="non-scaling-stroke" transform="matrix(6.8 -2.6 0 80.7 201.4 264.2)"/>
<path d="M195.9 260.6L202.7 258L208.2 261.6L201.4 264.2Z" fill="#ff7000"/>
<rect width="1" height="1" fill="url(#g33)" vector-effect="non-scaling-stroke" transform="matrix(5.5 3.6 0 115.1 398.2 156.1)"/>
<rect width="1" height="1" fill="url(#g33)" vector-effect="non-scaling-stroke" transform="matrix(6.8 -2.6 0 115.1 403.7 159.7)"/>
<path d="M398.2 156.1L405 153.5L410.5 157.1L403.7 159.7Z" fill="#ffff10"/>
<rect width="1" height="1" fill="url(#g18)" vector-effect="non-scaling-stroke" transform="matrix(5.5 3.6 0 96.8 381.2 180.9)"/>
<rect width="1" height="1" fill="url(#g18)" vector-effect="non-scaling-stroke" transform="matrix(6.8 -2.6 0 96.8 386.7 184.5)"/>
<path d="M381.2 180.9L388 178.3L393.5 181.9L386.7 184.5Z" fill="#ffb800"/>
<rect width="1" height="1" fill="url(#g32)" vector-effect="non-scaling-stroke" transform="matrix(5.5 3.6 0 112.7 364.2 171.5)"/>
<rect width="1" height="1" fill="url(#g32)" vector-effect="non-scaling-stroke" transform="matrix(6.8 -2.6 0 112.7 369.7 175.1)"/>
<path d="M364.2 171.5L371 168.9L376.5 172.5L369.7 175.1Z" fill="#ffff00"/>
<rect width="1" height="1" fill="url(#g32)" vector-effect="non-scaling-stroke" transform="matrix(5.5 3.6 0 112.7 347.2 177.9)"/>
<rect width="1" height="1" fill="url(#g32)" vector-effect="non-scaling-stroke" transform="matrix(6.8 -2.6 0 112.7 352.7 181.5)"/>
<path d="M347.2 177.9L354 175.4L359.5 179L352.7 181.5Z" fill="#ffff00"/>
<rect width="1" height="1" fill="url(#g36)" vector-effect="non-scaling-stroke" transform="matrix(5.5 3.6 0 122.3 330.2 174.9)"/>
<rect width="1" height="1" fill="url(#g36)" vector-effect="non-scaling-stroke" transform="matrix(6.8 -2.6 0 122.3 335.7 178.5)"/>
<path d="M330.2 174.9L337 172.3L342.5 175.9L335.7 178.5Z" fill="#ffff40"/>
<rect width="1" height="1" fill="url(#g32)" vector-effect="non-scaling-stroke" transform="matrix(5.5 3.6 0 112.7 313.2 190.9)"/>
<rect width="1" height="1" fill="url(#g32)" vector-effect="non-scaling-stroke" transform="matrix(6.8 -2.6 0 112.7 318.7 194.5)"/>
<path d="M313.2 190.9L320 188.3L325.5 191.9L318.7 194.5Z" fill="#ffff00"/>
<rect width="1" height="1" fill="url(#g35)" vector-effect="non-scaling-stroke" transform="matrix(5.5 3.6 0 119.9 296.2 190.2)"/>
<rect width="1" height="1" fill="url(#g35)" vector-effect="non-scaling-stroke" transform="matrix(6.8 -2.6 0 119.9 301.7 193.8)"/>
<path d="M296.2 190.2L303 187.6L308.5 191.2L301.7 193.8Z" fill="#ffff30"/>
<rect width="1" height="1" fill="url(#g26)" vector-effect="non-scaling-stroke" transform="matrix(5.5 3.6 0 105.8 279.2 210.8)"/>
<rect width="1" height="1" fill="url(#g26)" vector-effect="non-scaling-stroke" transform="matrix(6.8 -2.6 0 105.8 284.7 214.4)"/>
<path d="M279.2 210.8L286 208.2L291.5 211.8L284.7 214.4Z" fill="#ffe000"/>
<rect width="1" height="1" fill="url(#g25)" vector-effect="non-scaling-stroke" transform="matrix(5.5 3.6 0 104 262.2 219.1)"/>
<rect width="1" height="1" fill="url(#g25)" vector-effect="non-scaling-stroke" transform="matrix(6.8 -2.6 0 104 267.8 222.7)"/>
<path d="M262.2 219.1L269 216.5L274.6 220.1L267.8 222.7Z" fill="#ffd800"/>
<rect width="1" height="1" fill="url(#g26)" vector-effect="non-scaling-stroke" transform="matrix(5.5 3.6 0 105.8 245.3 223.8)"/>
<rect width="1" height="1" fill="url(#g26)" vector-effect="non-scaling-stroke" transform="matrix(6.8 -2.6 0 105.8 250.8 227.4)"/>
<path d="M245.3 223.8L252.1 221.2L257.6 224.8L250.8 227.4Z" fill="#ffe000"/>
<rect width="1" height="1" fill="url(#g20)" vector-effect="non-scaling-stroke" transform="matrix(5.5 3.6 0 98.6 228.3 237.4)"/>
<rect width="1" height="1" fill="url(#g20)" vector-effect="non-scaling-stroke" transform="matrix(6.8 -2.6 0 98.6 233.8 241)"/>
<path d="M228.3 237.4L235.1 234.8L240.6 238.4L233.8 241Z" fill="#ffc000"/>
<rect width="1" height="1" fill="url(#g17)" vector-effect="non-scaling-stroke" transform="matrix(5.5 3.6 0 95 211.3 247.5)"/>
<rect width="1" height="1" fill="url(#g17)" vector-effect="non-scaling-stroke" transform="matrix(6.8 -2.6 0 95 216.8 251.1)"/>
<path d="M211.3 247.5L218.1 244.9L223.6 248.5L216.8 251.1Z" fill="#ffb000"/>
<rect width="1" height="1" fill="url(#g45)" vector-effect="non-scaling-stroke" transform="matrix(5.5 3.6 0 148.5 194.3 200.5)"/>
<rect width="1" height="1" fill="url(#g45)" vector-effect="non-scaling-stroke" transform="matrix(6.8 -2.6 0 148.5 199.8 204.1)"/>
<path d="M194.3 200.5L201.1 197.9L206.6 201.5L199.8 204.1Z" fill="#fffff0"/>
<rect width="1" height="1" fill="url(#g32)" vector-effect="non-scaling-stroke" transform="matrix(5.5 3.6 0 112.7 396.6 166.2)"/>
<rect width="1" height="1" fill="url(#g32)" vector-effect="non-scaling-stroke" transform="matrix(6.8 -2.6 0 112.7 402.1 169.8)"/>
<path d="M396.6 166.2L403.4 163.6L408.9 167.2L402.1 169.8Z" fill="#ffff00"/>
<rect width="1" height="1" fill="url(#g26)" vector-effect="non-scaling-stroke" transform="matrix(5.5 3.6 0 105.8 379.6 179.7)"/>
<rect width="1" height="1" fill="url(#g26)" vector-effect="non-scaling-stroke" transform="matrix(6.8 -2.6 0 105.8 385.1 183.3)"/>
<path d="M379.6 179.7L386.4 177.1L391.9 180.7L385.1 183.3Z" fill="#ffe000"/>
<rect width="1" height="1" fill="url(#g32)" vector-effect="non-scaling-stroke" transform="matrix(5.5 3.6 0 112.7 362.6 179.2)"/>
<rect width="1" height="1" fill="url(#g32)" vector-effect="non-scaling-stroke" transform="matrix(6.8 -2.6 0 112.7 368.1 182.8)"/>
<path d="M362.6 179.2L369.4 176.6L374.9 180.2L368.1 182.8Z" fill="#ffff00"/>
<rect width="1" height="1" fill="url(#g32)" vector-effect="non-scaling-stroke" transform="matrix(5.5 3.6 0 112.7 345.6 185.7)"/>
<rect width="1" height="1" fill="url(#g32)" vector-effect="non-scaling-stroke" transform="matrix(6.8 -2.6 0 112.7 351.1 189.3)"/>
<path d="M345.6 185.7L352.4 183.1L357.9 186.7L351.1 189.3Z" fill="#ffff00"/>
<rect width="1" height="1" fill="url(#g35)" vector-effect="non-scaling-stroke" transform="matrix(5.5 3.6 0 119.9 328.6 185)"/>
<rect width="1" height="1" fill="url(#g35)" vector-effect="non-scaling-stroke" transform="matrix(6.8 -2.6 0 119.9 334.1 188.6)"/>
<path d="M328.6 185L335.4 182.4L340.9 186L334.1 188.6Z" fill="#ffff30"/>
<rect width="1" height="1" fill="url(#g34)" vector-effect="non-scaling-stroke" transform="matrix(5.5 3.6 0 117.5 311.6 193.9)"/>
<rect width="1" height="1" fill="url(#g34)" vector-effect="non-scaling-stroke" transform="matrix(6.8 -2.6 0 117.5 317.1 197.5)"/>
<path d="M311.6 193.9L318.4 191.3L323.9 194.9L317.1 197.5Z" fill="#ffff20"/>
<rect width="1" height="1" fill="url(#g32)" vector-effect="non-scaling-stroke" transform="matrix(5.5 3.6 0 112.7 294.6 205.1)"/>
<rect width="1" height="1" fill="url(#g32)" vector-effect="non-scaling-stroke" transform="matrix(6.8 -2.6 0 112.7 300.1 208.7)"/>
<path d="M294.6 205.1L301.4 202.5L306.9 206.1L300.1 208.7Z" fill="#ffff00"/>
<rect width="1" height="1" fill="url(#g25)" vector-effect="non-scaling-stroke" transform="matrix(5.5 3.6 0 104 277.6 220.3)"/>
<rect width="1" height="1" fill="url(#g25)" vector-effect="non-scaling-stroke" transform="matrix(6.8 -2.6 0 104 283.1 223.9)"/>
<path d="M277.6 220.3L284.4 217.8L289.9 221.4L283.1 223.9Z" fill="#ffd800"/>
<rect width="1" height="1" fill="url(#g26)" vector-effect="non-scaling-stroke" transform="matrix(5.5 3.6 0 105.8 260.6 225)"/>
<rect width="1" height="1" fill="url(#g26)" vector-effect="non-scaling-stroke" transform="matrix(6.8 -2.6 0 105.8 266.1 228.6)"/>
<path d="M260.6 225L267.4 222.4L272.9 226L266.1 228.6Z" fill="#ffe000"/>
<rect width="1" height="1" fill="url(#g20)" vector-effect="non-scaling-stroke" transform="matrix(5.5 3.6 0 98.6 243.6 238.7)"/>
<rect width="1" height="1" fill="url(#g20)" vector-effect="non-scaling-stroke" transform="matrix(6.8 -2.6 0 98.6 249.2 242.3)"/>
<path d="M243.6 238.7L250.4 236.1L255.9 239.7L249.2 242.3Z" fill="#ffc000"/>
<rect width="1" height="1" fill="url(#g11)" vector-effect="non-scaling-stroke" transform="matrix(5.5 3.6 0 87.9 226.7 255.9)"/>
<rect width="1" height="1" fill="url(#g11)" vector-effect="non-scaling-stroke" transform="matrix(6.8 -2.6 0 87.9 232.2 259.5)"/>
<path d="M226.7 255.9L233.4 253.3L239 256.9L232.2 259.5Z" fill="#ff9000"/>
<rect width="1" height="1" fill="url(#g44)" vector-effect="non-scaling-stroke" transform="matrix(5.5 3.6 0 146.1 209.7 204.1)"/>
<rect width="1" height="1" fill="url(#g44)" vector-effect="non-scaling-stroke" transform="matrix(6.8 -2.6 0 146.1 215.2 207.7)"/>
<path d="M209.7 204.1L216.5 201.5L222 205.1L215.2 207.7Z" fill="#ffffe0"/>
<rect width="1" height="1" fill="url(#g35)" vector-effect="non-scaling-stroke" transform="matrix(5.5 3.6 0 119.9 395 166.8)"/>
<rect width="1" height="1" fill="url(#g35)" vector-effect="non-scaling-stroke" transform="matrix(6.8 -2.6 0 119.9 400.5 170.4)"/>
<path d="M395 166.8L401.8 164.2L407.3 167.8L400.5 170.4Z" fill="#ffff30"/>
<rect width="1" height="1" fill="url(#g35)" vector-effect="non-scaling-stroke" transform="matrix(5.5 3.6 0 119.9 378 173.3)"/>
<rect width="1" height="1" fill="url(#g35)" vector-effect="non-scaling-stroke" transform="matrix(6.8 -2.6 0 119.9 383.5 176.9)"/>
<path d="M378 173.3L384.8 170.7L390.3 174.3L383.5 176.9Z" fill="#ffff30"/>
<rect width="1" height="1" fill="url(#g35)" vector-effect="non-scaling-stroke" transform="matrix(5.5 3.6 0 119.9 361 179.8)"/>
<rect width="1" height="1" fill="url(#g35)" vector-effect="non-scaling-stroke" transform="matrix(6.8 -2.6 0 119.9 366.5 183.4)"/>
<path d="M361 179.8L367.8 177.2L373.3 180.8L366.5 183.4Z" fill="#ffff30"/>
<rect width="1" height="1" fill="url(#g34)" vector-effect="non-scaling-stroke" transform="matrix(5.5 3.6 0 117.5 344 188.7)"/>
<rect width="1" height="1" fill="url(#g34)" vector-effect="non-scaling-stroke" transform="matrix(6.8 -2.6 0 117.5 349.5 192.3)"/>
<path d="M344 188.7L350.8 186.1L356.3 189.7L349.5 192.3Z" fill="#ffff20"/>
<rect width="1" height="1" fill="url(#g32)" vector-effect="non-scaling-stroke" transform="matrix(5.5 3.6 0 112.7 327 199.9)"/>
<rect width="1" height="1" fill="url(#g32)" vector-effect="non-scaling-stroke" transform="matrix(6.8 -2.6 0 112.7 332.5 203.5)"/>
<path d="M327 199.9L333.8 197.3L339.3 200.9L332.5 203.5Z" fill="#ffff00"/>
<rect width="1" height="1" fill="url(#g34)" vector-effect="non-scaling-stroke" transform="matrix(5.5 3.6 0 117.5 310 201.6)"/>
<rect width="1" height="1" fill="url(#g34)" vector-effect="non-scaling-stroke" transform="matrix(6.8 -2.6 0 117.5 315.5 205.2)"/>
<path d="M310 201.6L316.8 199L322.3 202.6L315.5 205.2Z" fill="#ffff20"/>
<rect width="1" height="1" fill="url(#g32)" vector-effect="non-scaling-stroke" transform="matrix(5.5 3.6 0 112.7 293 212.9)"/>
<rect width="1" height="1" fill="url(#g32)" vector-effect="non-scaling-stroke" transform="matrix(6.8 -2.6 0 112.7 298.5 216.5)"/>
<path d="M293 212.9L299.8 210.3L305.3 213.9L298.5 216.5Z" fill="#ffff00"/>
<rect width="1" height="1" fill="url(#g32)" vector-effect="non-scaling-stroke" transform="matrix(5.5 3.6 0 112.7 276 219.4)"/>
<rect width="1" height="1" fill="url(#g32)" vector-effect="non-scaling-stroke" transform="matrix(6.8 -2.6 0 112.7 281.5 223)"/>
<path d="M276 219.4L282.8 216.8L288.3 220.4L281.5 223Z" fill="#ffff00"/>
<rect width="1" height="1" fill="url(#g22)" vector-effect="non-scaling-stroke" transform="matrix(5.5 3.6 0 100.4 259 238.2)"/>
<rect width="1" height="1" fill="url(#g22)" vector-effect="non-scaling-stroke" transform="matrix(6.8 -2.6 0 100.4 264.5 241.8)"/>
<path d="M259 238.2L265.8 235.6L271.3 239.2L264.5 241.8Z" fill="#ffc800"/>
<rect width="1" height="1" fill="url(#g10)" vector-effect="non-scaling-stroke" transform="matrix(5.5 3.6 0 86.1 242 259)"/>
<rect width="1" height="1" fill="url(#g10)" vector-effect="non-scaling-stroke" transform="matrix(6.8 -2.6 0 86.1 247.5 262.6)"/>
<path d="M242 259L248.8 256.4L254.3 260L247.5 262.6Z" fill="#ff8800"/>
<rect width="1" height="1" fill="url(#g42)" vector-effect="non-scaling-stroke" transform="matrix(5.5 3.6 0 141.3 225 210.2)"/>
<rect width="1" height="1" fill="url(#g42)" vector-effect="non-scaling-stroke" transform="matrix(6.8 -2.6 0 141.3 230.5 213.8)"/>
<path d="M225 210.2L231.8 207.6L237.3 211.2L230.5 213.8Z" fill="#ffffc0"/>
<rect width="1" height="1" fill="url(#g22)" vector-effect="non-scaling-stroke" transform="matrix(5.5 3.6 0 100.4 393.3 194)"/>
<rect width="1" height="1" fill="url(#g22)" vector-effect="non-scaling-stroke" transform="matrix(6.8 -2.6 0 100.4 398.9 197.6)"/>
<path d="M393.3 194L400.1 191.4L405.6 195L398.9 197.6Z" fill="#ffc800"/>
<rect width="1" height="1" fill="url(#g32)" vector-effect="non-scaling-stroke" transform="matrix(5.5 3.6 0 112.7 376.4 188.2)"/>
<rect width="1" height="1" fill="url(#g32)" vector-effect="non-scaling-stroke" transform="matrix(6.8 -2.6 0 112.7 381.9 191.8)"/>
<path d="M376.4 188.2L383.1 185.6L388.7 189.2L381.9 191.8Z" fill="#ffff00"/>
<rect width="1" height="1" fill="url(#g36)" vector-effect="non-scaling-stroke" transform="matrix(5.5 3.6 0 122.3 359.4 185.1)"/>
<rect width="1" height="1" fill="url(#g36)" vector-effect="non-scaling-stroke" transform="matrix(6.8 -2.6 0 122.3 364.9 188.7)"/>
<path d="M359.4 185.1L366.2 182.5L371.7 186.1L364.9 188.7Z" fill="#ffff40"/>
<rect width="1" height="1" fill="url(#g34)" vector-effect="non-scaling-stroke" transform="matrix(5.5 3.6 0 117.5 342.4 196.4)"/>
<rect width="1" height="1" fill="url(#g34)" vector-effect="non-scaling-stroke" transform="matrix(6.8 -2.6 0 117.5 347.9 200)"/>
<path d="M342.4 196.4L349.2 193.8L354.7 197.4L347.9 200Z" fill="#ffff20"/>
<rect width="1" height="1" fill="url(#g36)" vector-effect="non-scaling-stroke" transform="matrix(5.5 3.6 0 122.3 325.4 198.1)"/>
<rect width="1" height="1" fill="url(#g36)" vector-effect="non-scaling-stroke" transform="matrix(6.8 -2.6 0 122.3 330.9 201.7)"/>
<path d="M325.4 198.1L332.2 195.5L337.7 199.1L330.9 201.7Z" fill="#ffff40"/>
<rect width="1" height="1" fill="url(#g35)" vector-effect="non-scaling-stroke" transform="matrix(5.5 3.6 0 119.9 308.4 207)"/>
<rect width="1" height="1" fill="url(#g35)" vector-effect="non-scaling-stroke" transform="matrix(6.8 -2.6 0 119.9 313.9 210.6)"/>
<path d="M308.4 207L315.2 204.4L320.7 208L313.9 210.6Z" fill="#ffff30"/>
<rect width="1" height="1" fill="url(#g28)" vector-effect="non-scaling-stroke" transform="matrix(5.5 3.6 0 107.6 291.4 225.8)"/>
<rect width="1" height="1" fill="url(#g28)" vector-effect="non-scaling-stroke" transform="matrix(6.8 -2.6 0 107.6 296.9 229.4)"/>
<path d="M291.4 225.8L298.2 223.2L303.7 226.8L296.9 229.4Z" fill="#ffe800"/>
<rect width="1" height="1" fill="url(#g26)" vector-effect="non-scaling-stroke" transform="matrix(5.5 3.6 0 105.8 274.4 234)"/>
<rect width="1" height="1" fill="url(#g26)" vector-effect="non-scaling-stroke" transform="matrix(6.8 -2.6 0 105.8 279.9 237.6)"/>
<path d="M274.4 234L281.2 231.4L286.7 235L279.9 237.6Z" fill="#ffe000"/>
<rect width="1" height="1" fill="url(#g12)" vector-effect="non-scaling-stroke" transform="matrix(5.5 3.6 0 89.7 257.4 256.6)"/>
<rect width="1" height="1" fill="url(#g12)" vector-effect="non-scaling-stroke" transform="matrix(6.8 -2.6 0 89.7 262.9 260.2)"/>
<path d="M257.4 256.6L264.2 254L269.7 257.6L262.9 260.2Z" fill="#ff9800"/>
<rect width="1" height="1" fill="url(#g33)" vector-effect="non-scaling-stroke" transform="matrix(5.5 3.6 0 115.1 240.4 237.7)"/>
<rect width="1" height="1" fill="url(#g33)" vector-effect="non-scaling-stroke" transform="matrix(6.8 -2.6 0 115.1 245.9 241.3)"/>
<path d="M240.4 237.7L247.2 235.1L252.7 238.7L245.9 241.3Z" fill="#ffff10"/>
<rect width="1" height="1" fill="url(#g23)" vector-effect="non-scaling-stroke" transform="matrix(5.5 3.6 0 102.2 391.7 200)"/>
<rect width="1" height="1" fill="url(#g23)" vector-effect="non-scaling-stroke" transform="matrix(6.8 -2.6 0 102.2 397.2 203.6)"/>
<path d="M391.7 200L398.5 197.4L404 201L397.2 203.6Z" fill="#ffd000"/>
<rect width="1" height="1" fill="url(#g35)" vector-effect="non-scaling-stroke" transform="matrix(5.5 3.6 0 119.9 374.7 188.8)"/>
<rect width="1" height="1" fill="url(#g35)" vector-effect="non-scaling-stroke" transform="matrix(6.8 -2.6 0 119.9 380.2 192.4)"/>
<path d="M374.7 188.8L381.5 186.2L387 189.8L380.2 192.4Z" fill="#ffff30"/>
<rect width="1" height="1" fill="url(#g35)" vector-effect="non-scaling-stroke" transform="matrix(5.5 3.6 0 119.9 357.7 195.3)"/>
<rect width="1" height="1" fill="url(#g35)" vector-effect="non-scaling-stroke" transform="matrix(6.8 -2.6 0 119.9 363.3 198.9)"/>
<path d="M357.7 195.3L364.5 192.7L370.1 196.3L363.3 198.9Z" fill="#ffff30"/>
<rect width="1" height="1" fill="url(#g34)" vector-effect="non-scaling-stroke" transform="matrix(5.5 3.6 0 117.5 340.8 204.1)"/>
<rect width="1" height="1" fill="url(#g34)" vector-effect="non-scaling-stroke" transform="matrix(6.8 -2.6 0 117.5 346.3 207.7)"/>
<path d="M340.8 204.1L347.6 201.5L353.1 205.1L346.3 207.7Z" fill="#ffff20"/>
<rect width="1" height="1" fill="url(#g32)" vector-effect="non-scaling-stroke" transform="matrix(5.5 3.6 0 112.7 323.8 215.4)"/>
<rect width="1" height="1" fill="url(#g32)" vector-effect="non-scaling-stroke" transform="matrix(6.8 -2.6 0 112.7 329.3 219)"/>
<path d="M323.8 215.4L330.6 212.8L336.1 216.4L329.3 219Z" fill="#ffff00"/>
<rect width="1" height="1" fill="url(#g33)" vector-effect="non-scaling-stroke" transform="matrix(5.5 3.6 0 115.1 306.8 219.5)"/>
<rect width="1" height="1" fill="url(#g33)" vector-effect="non-scaling-stroke" transform="matrix(6.8 -2.6 0 115.1 312.3 223.1)"/>
<path d="M306.8 219.5L313.6 216.9L319.1 220.5L312.3 223.1Z" fill="#ffff10"/>
<rect width="1" height="1" fill="url(#g23)" vector-effect="non-scaling-stroke" transform="matrix(5.5 3.6 0 102.2 289.8 238.9)"/>
<rect width="1" height="1" fill="url(#g23)" vector-effect="non-scaling-stroke" transform="matrix(6.8 -2.6 0 102.2 295.3 242.5)"/>
<path d="M289.8 238.9L296.6 236.3L302.1 239.9L295.3 242.5Z" fill="#ffd000"/>
<rect width="1" height="1" fill="url(#g14)" vector-effect="non-scaling-stroke" transform="matrix(5.5 3.6 0 91.4 272.8 256.1)"/>
<rect width="1" height="1" fill="url(#g14)" vector-effect="non-scaling-stroke" transform="matrix(6.8 -2.6 0 91.4 278.3 259.7)"/>
<path d="M272.8 256.1L279.6 253.5L285.1 257.1L278.3 259.7Z" fill="#ffa000"/>
<rect width="1" height="1" fill="url(#g1)" vector-effect="non-scaling-stroke" transform="matrix(5.5 3.6 0 64.6 255.8 289.4)"/>
<rect width="1" height="1" fill="url(#g1)" vector-effect="non-scaling-stroke" transform="matrix(6.8 -2.6 0 64.6 261.3 293)"/>
<path d="M255.8 289.4L262.6 286.8L268.1 290.4L261.3 293Z" fill="#ff2800"/>
<rect width="1" height="1" fill="url(#g10)" vector-effect="non-scaling-stroke" transform="matrix(5.5 3.6 0 86.1 390.1 223.8)"/>
<rect width="1" height="1" fill="url(#g10)" vector-effect="non-scaling-stroke" transform="matrix(6.8 -2.6 0 86.1 395.6 227.4)"/>
<path d="M390.1 223.8L396.9 221.2L402.4 224.8L395.6 227.4Z" fill="#ff8800"/>
<rect width="1" height="1" fill="url(#g34)" vector-effect="non-scaling-stroke" transform="matrix(5.5 3.6 0 117.5 373.1 198.9)"/>
<rect width="1" height="1" fill="url(#g34)" vector-effect="non-scaling-stroke" transform="matrix(6.8 -2.6 0 117.5 378.6 202.5)"/>
<path d="M373.1 198.9L379.9 196.3L385.4 199.9L378.6 202.5Z" fill="#ffff20"/>
<rect width="1" height="1" fill="url(#g32)" vector-effect="non-scaling-stroke" transform="matrix(5.5 3.6 0 112.7 356.1 210.2)"/>
<rect width="1" height="1" fill="url(#g32)" vector-effect="non-scaling-stroke" transform="matrix(6.8 -2.6 0 112.7 361.6 213.8)"/>
<path d="M356.1 210.2L362.9 207.6L368.4 211.2L361.6 213.8Z" fill="#ffff00"/>
<rect width="1" height="1" fill="url(#g32)" vector-effect="non-scaling-stroke" transform="matrix(5.5 3.6 0 112.7 339.1 216.7)"/>
<rect width="1" height="1" fill="url(#g32)" vector-effect="non-scaling-stroke" transform="matrix(6.8 -2.6 0 112.7 344.7 220.3)"/>
<path d="M339.1 216.7L345.9 214.1L351.4 217.7L344.7 220.3Z" fill="#ffff00"/>
<rect width="1" height="1" fill="url(#g25)" vector-effect="non-scaling-stroke" transform="matrix(5.5 3.6 0 104 322.2 231.9)"/>
<rect width="1" height="1" fill="url(#g25)" vector-effect="non-scaling-stroke" transform="matrix(6.8 -2.6 0 104 327.7 235.5)"/>
<path d="M322.2 231.9L328.9 229.3L334.5 232.9L327.7 235.5Z" fill="#ffd800"/>
<rect width="1" height="1" fill="url(#g26)" vector-effect="non-scaling-stroke" transform="matrix(5.5 3.6 0 105.8 305.2 236.6)"/>
<rect width="1" height="1" fill="url(#g26)" vector-effect="non-scaling-stroke" transform="matrix(6.8 -2.6 0 105.8 310.7 240.2)"/>
<path d="M305.2 236.6L312 234L317.5 237.6L310.7 240.2Z" fill="#ffe000"/>
<rect width="1" height="1" fill="url(#g9)" vector-effect="non-scaling-stroke" transform="matrix(5.5 3.6 0 84.3 288.2 264.5)"/>
<rect width="1" height="1" fill="url(#g9)" vector-effect="non-scaling-stroke" transform="matrix(6.8 -2.6 0 84.3 293.7 268.1)"/>
<path d="M288.2 264.5L295 261.9L300.5 265.5L293.7 268.1Z" fill="#ff8000"/>
<rect width="1" height="1" fill="url(#g18)" vector-effect="non-scaling-stroke" transform="matrix(5.5 3.6 0 96.8 271.2 258.5)"/>
<rect width="1" height="1" fill="url(#g18)" vector-effect="non-scaling-stroke" transform="matrix(6.8 -2.6 0 96.8 276.7 262.1)"/>
<path d="M271.2 258.5L278 255.9L283.5 259.5L276.7 262.1Z" fill="#ffb800"/>
<rect width="1" height="1" fill="url(#g18)" vector-effect="non-scaling-stroke" transform="matrix(5.5 3.6 0 96.8 388.5 220.8)"/>
<rect width="1" height="1" fill="url(#g18)" vector-effect="non-scaling-stroke" transform="matrix(6.8 -2.6 0 96.8 394 224.4)"/>
<path d="M388.5 220.8L395.3 218.2L400.8 221.8L394 224.4Z" fill="#ffb800"/>
<rect width="1" height="1" fill="url(#g22)" vector-effect="non-scaling-stroke" transform="matrix(5.5 3.6 0 100.4 371.5 223.7)"/>
<rect width="1" height="1" fill="url(#g22)" vector-effect="non-scaling-stroke" transform="matrix(6.8 -2.6 0 100.4 377 227.3)"/>
<path d="M371.5 223.7L378.3 221.1L383.8 224.7L377 227.3Z" fill="#ffc800"/>
<rect width="1" height="1" fill="url(#g35)" vector-effect="non-scaling-stroke" transform="matrix(5.5 3.6 0 119.9 354.5 210.7)"/>
<rect width="1" height="1" fill="url(#g35)" vector-effect="non-scaling-stroke" transform="matrix(6.8 -2.6 0 119.9 360 214.3)"/>
<path d="M354.5 210.7L361.3 208.2L366.8 211.8L360 214.3Z" fill="#ffff30"/>
<rect width="1" height="1" fill="url(#g34)" vector-effect="non-scaling-stroke" transform="matrix(5.5 3.6 0 117.5 337.5 219.6)"/>
<rect width="1" height="1" fill="url(#g34)" vector-effect="non-scaling-stroke" transform="matrix(6.8 -2.6 0 117.5 343 223.2)"/>
<path d="M337.5 219.6L344.3 217L349.8 220.6L343 223.2Z" fill="#ffff20"/>
<rect width="1" height="1" fill="url(#g20)" vector-effect="non-scaling-stroke" transform="matrix(5.5 3.6 0 98.6 320.5 245)"/>
<rect width="1" height="1" fill="url(#g20)" vector-effect="non-scaling-stroke" transform="matrix(6.8 -2.6 0 98.6 326 248.6)"/>
<path d="M320.5 245L327.3 242.4L332.8 246L326 248.6Z" fill="#ffc000"/>
<rect width="1" height="1" fill="url(#g4)" vector-effect="non-scaling-stroke" transform="matrix(5.5 3.6 0 68.2 303.5 281.9)"/>
<rect width="1" height="1" fill="url(#g4)" vector-effect="non-scaling-stroke" transform="matrix(6.8 -2.6 0 68.2 309.1 285.5)"/>
<path d="M303.5 281.9L310.3 279.3L315.9 282.9L309.1 285.5Z" fill="#ff3800"/>
<rect width="1" height="1" fill="url(#g38)" vector-effect="non-scaling-stroke" transform="matrix(5.5 3.6 0 127 286.6 229.5)"/>
<rect width="1" height="1" fill="url(#g38)" vector-effect="non-scaling-stroke" transform="matrix(6.8 -2.6 0 127 292.1 233.1)"/>
<path d="M286.6 229.5L293.4 226.9L298.9 230.5L292.1 233.1Z" fill="#ffff60"/>
<rect width="1" height="1" fill="url(#g17)" vector-effect="non-scaling-stroke" transform="matrix(5.5 3.6 0 95 386.9 230.4)"/>
<rect width="1" height="1" fill="url(#g17)" vector-effect="non-scaling-stroke" transform="matrix(6.8 -2.6 0 95 392.4 234)"/>
<path d="M386.9 230.4L393.7 227.8L399.2 231.4L392.4 234Z" fill="#ffb000"/>
<rect width="1" height="1" fill="url(#g11)" vector-effect="non-scaling-stroke" transform="matrix(5.5 3.6 0 87.9 369.9 244)"/>
<rect width="1" height="1" fill="url(#g11)" vector-effect="non-scaling-stroke" transform="matrix(6.8 -2.6 0 87.9 375.4 247.6)"/>
<path d="M369.9 244L376.7 241.4L382.2 245L375.4 247.6Z" fill="#ff9000"/>
<rect width="1" height="1" fill="url(#g32)" vector-effect="non-scaling-stroke" transform="matrix(5.5 3.6 0 112.7 352.9 225.7)"/>
<rect width="1" height="1" fill="url(#g32)" vector-effect="non-scaling-stroke" transform="matrix(6.8 -2.6 0 112.7 358.4 229.3)"/>
<path d="M352.9 225.7L359.7 223.1L365.2 226.7L358.4 229.3Z" fill="#ffff00"/>
<rect width="1" height="1" fill="url(#g33)" vector-effect="non-scaling-stroke" transform="matrix(5.5 3.6 0 115.1 335.9 229.7)"/>
<rect width="1" height="1" fill="url(#g33)" vector-effect="non-scaling-stroke" transform="matrix(6.8 -2.6 0 115.1 341.4 233.3)"/>
<path d="M335.9 229.7L342.7 227.2L348.2 230.8L341.4 233.3Z" fill="#ffff10"/>
<rect width="1" height="1" fill="url(#g14)" vector-effect="non-scaling-stroke" transform="matrix(5.5 3.6 0 91.4 318.9 259.9)"/>
<rect width="1" height="1" fill="url(#g14)" vector-effect="non-scaling-stroke" transform="matrix(6.8 -2.6 0 91.4 324.4 263.5)"/>
<path d="M318.9 259.9L325.7 257.3L331.2 260.9L324.4 263.5Z" fill="#ffa000"/>
<rect width="1" height="1" fill="url(#g44)" vector-effect="non-scaling-stroke" transform="matrix(5.5 3.6 0 146.1 301.9 211.7)"/>
<rect width="1" height="1" fill="url(#g44)" vector-effect="non-scaling-stroke" transform="matrix(6.8 -2.6 0 146.1 307.4 215.3)"/>
<path d="M301.9 211.7L308.7 209.1L314.2 212.7L307.4 215.3Z" fill="#ffffe0"/>
<rect width="1" height="1" fill="url(#g35)" vector-effect="non-scaling-stroke" transform="matrix(5.5 3.6 0 119.9 385.3 213.3)"/>
<rect width="1" height="1" fill="url(#g35)" vector-effect="non-scaling-stroke" transform="matrix(6.8 -2.6 0 119.9 390.8 216.9)"/>
<path d="M385.3 213.3L392.1 210.7L397.6 214.3L390.8 216.9Z" fill="#ffff30"/>
<rect width="1" height="1" fill="url(#g15)" vector-effect="non-scaling-stroke" transform="matrix(5.5 3.6 0 93.2 368.3 246.4)"/>
<rect width="1" height="1" fill="url(#g15)" vector-effect="non-scaling-stroke" transform="matrix(6.8 -2.6 0 93.2 373.8 250)"/>
<path d="M368.3 246.4L375.1 243.8L380.6 247.4L373.8 250Z" fill="#ffa800"/>
<rect width="1" height="1" fill="url(#g34)" vector-effect="non-scaling-stroke" transform="matrix(5.5 3.6 0 117.5 351.3 228.6)"/>
<rect width="1" height="1" fill="url(#g34)" vector-effect="non-scaling-stroke" transform="matrix(6.8 -2.6 0 117.5 356.8 232.2)"/>
<path d="M351.3 228.6L358.1 226L363.6 229.6L356.8 232.2Z" fill="#ffff20"/>
<rect width="1" height="1" fill="url(#g15)" vector-effect="non-scaling-stroke" transform="matrix(5.5 3.6 0 93.2 334.3 259.3)"/>
<rect width="1" height="1" fill="url(#g15)" vector-effect="non-scaling-stroke" transform="matrix(6.8 -2.6 0 93.2 339.8 262.9)"/>
<path d="M334.3 259.3L341.1 256.8L346.6 260.4L339.8 262.9Z" fill="#ffa800"/>
<rect width="1" height="1" fill="url(#g42)" vector-effect="non-scaling-stroke" transform="matrix(5.5 3.6 0 141.3 317.3 217.7)"/>
<rect width="1" height="1" fill="url(#g42)" vector-effect="non-scaling-stroke" transform="matrix(6.8 -2.6 0 141.3 322.8 221.3)"/>
<path d="M317.3 217.7L324.1 215.1L329.6 218.7L322.8 221.3Z" fill="#ffffc0"/>
</g></g>
<g stroke="#000" stroke-width="1" fill="none">
<path d="M90.3 277.5L90.3 134.3" />
<path d="M90.3 277.5L255.5 385.5" />
<path d="M255.5 385.5L459.4 307.7" />
<path d="M90.3 277.5L86.1 274.8" />
<path d="M90.3 229.8L86.1 227" />
<path d="M90.3 182L86.1 179.3" />
<path d="M90.3 134.3L86.1 131.6" />
<path d="M90.3 277.5L86.6 278.9" />
<path d="M255.5 385.5L258.8 387.7" />
<path d="M117.8 295.5L114.1 296.9" />
<path d="M289.5 372.5L292.8 374.7" />
<path d="M145.4 313.5L141.6 314.9" />
<path d="M323.5 359.6L326.8 361.8" />
<path d="M172.9 331.5L169.2 332.9" />
<path d="M357.4 346.6L360.8 348.8" />
<path d="M200.4 349.5L196.7 350.9" />
<path d="M391.4 333.6L394.8 335.8" />
<path d="M228 367.5L224.2 368.9" />
<path d="M425.4 320.7L428.8 322.9" />
<path d="M255.5 385.5L251.8 386.9" />
<path d="M459.4 307.7L462.7 309.9" />
</g>
<rect x="548.1" y="56.6" width="336.6" height="335.7" fill="#0b0000" stroke="#000" stroke-width="1"/>
<rect x="655.8" y="56.6" width="13.5" height="13.4" fill="#fffff0"/>
<rect x="682.7" y="56.6" width="13.5" height="13.4" fill="#ffd500"/>
<rect x="709.7" y="56.6" width="13.5" height="13.4" fill="#ffbb00"/>
<rect x="736.6" y="56.6" width="13.5" height="13.4" fill="#ff7700"/>
<rect x="763.5" y="56.6" width="13.5" height="13.4" fill="#ffff30"/>
<rect x="642.3" y="70" width="13.5" height="13.4" fill="#ffffe0"/>
<rect x="669.3" y="70" width="13.5" height="13.4" fill="#ffff00"/>
<rect x="696.2" y="70" width="13.5" height="13.4" fill="#ffe500"/>
<rect x="723.1" y="70" width="13.5" height="13.4" fill="#ffe000"/>
<rect x="750.1" y="70" width="13.5" height="13.4" fill="#ffa000"/>
<rect x="777" y="70" width="13.5" height="13.4" fill="#ffffa8"/>
<rect x="628.9" y="83.5" width="13.5" height="13.4" fill="#ffffff"/>
<rect x="655.8" y="83.5" width="13.5" height="13.4" fill="#ffb000"/>
<rect x="682.7" y="83.5" width="13.5" height="13.4" fill="#ffd800"/>
<rect x="709.7" y="83.5" width="13.5" height="13.4" fill="#ffff20"/>
<rect x="736.6" y="83.5" width="13.5" height="13.4" fill="#ffd000"/>
<rect x="763.5" y="83.5" width="13.5" height="13.4" fill="#ff8800"/>
<rect x="790.5" y="83.5" width="13.5" height="13.4" fill="#ffffa0"/>
<rect x="615.4" y="96.9" width="13.5" height="13.4" fill="#fffff0"/>
<rect x="642.3" y="96.9" width="13.5" height="13.4" fill="#ffc000"/>
<rect x="669.3" y="96.9" width="13.5" height="13.4" fill="#ffff00"/>
<rect x="696.2" y="96.9" width="13.5" height="13.4" fill="#ffe800"/>
<rect x="723.1" y="96.9" width="13.5" height="13.4" fill="#ffd800"/>
<rect x="750.1" y="96.9" width="13.5" height="13.4" fill="#ffd800"/>
<rect x="777" y="96.9" width="13.5" height="13.4" fill="#ffb800"/>
<rect x="803.9" y="96.9" width="13.5" height="13.4" fill="#ffe000"/>
<rect x="602" y="110.3" width="13.5" height="13.4" fill="#ffe800"/>
<rect x="628.9" y="110.3" width="13.5" height="13.4" fill="#ffaa00"/>
<rect x="655.8" y="110.3" width="13.5" height="13.4" fill="#ffff00"/>
<rect x="682.7" y="110.3" width="13.5" height="13.4" fill="#ffd800"/>
<rect x="709.7" y="110.3" width="13.5" height="13.4" fill="#ffff00"/>
<rect x="736.6" y="110.3" width="13.5" height="13.4" fill="#ffff30"/>
<rect x="763.5" y="110.3" width="13.5" height="13.4" fill="#ffe800"/>
<rect x="790.5" y="110.3" width="13.5" height="13.4" fill="#ff9900"/>
<rect x="817.4" y="110.3" width="13.5" height="13.4" fill="#ff3300"/>
<rect x="588.5" y="123.7" width="13.5" height="13.4" fill="#ffffa0"/>
<rect x="615.4" y="123.7" width="13.5" height="13.4" fill="#ff3000"/>
<rect x="642.3" y="123.7" width="13.5" height="13.4" fill="#ffe800"/>
<rect x="669.3" y="123.7" width="13.5" height="13.4" fill="#ffff00"/>
<rect x="696.2" y="123.7" width="13.5" height="13.4" fill="#ffe800"/>
<rect x="723.1" y="123.7" width="13.5" height="13.4" fill="#ffff10"/>
<rect x="750.1" y="123.7" width="13.5" height="13.4" fill="#ffff00"/>
<rect x="777" y="123.7" width="13.5" height="13.4" fill="#ffc000"/>
<rect x="803.9" y="123.7" width="13.5" height="13.4" fill="#ffa000"/>
<rect x="830.8" y="123.7" width="13.5" height="13.4" fill="#ff5000"/>
<rect x="575" y="137.2" width="13.5" height="13.4" fill="#fffde0"/>
<rect x="602" y="137.2" width="13.5" height="13.4" fill="#ff2000"/>
<rect x="628.9" y="137.2" width="13.5" height="13.4" fill="#ffe000"/>
<rect x="655.8" y="137.2" width="13.5" height="13.4" fill="#ffff00"/>
<rect x="682.7" y="137.2" width="13.5" height="13.4" fill="#ffff20"/>
<rect x="709.7" y="137.2" width="13.5" height="13.4" fill="#ffe800"/>
<rect x="736.6" y="137.2" width="13.5" height="13.4" fill="#ffff00"/>
<rect x="763.5" y="137.2" width="13.5" height="13.4" fill="#ffff00"/>
<rect x="790.5" y="137.2" width="13.5" height="13.4" fill="#ffd000"/>
<rect x="817.4" y="137.2" width="13.5" height="13.4" fill="#ffd800"/>
<rect x="844.3" y="137.2" width="13.5" height="13.4" fill="#ffff60"/>
<rect x="561.6" y="150.6" width="13.5" height="13.4" fill="#ffff60"/>
<rect x="588.5" y="150.6" width="13.5" height="13.4" fill="#ff7000"/>
<rect x="615.4" y="150.6" width="13.5" height="13.4" fill="#fff800"/>
<rect x="642.3" y="150.6" width="13.5" height="13.4" fill="#ffff00"/>
<rect x="669.3" y="150.6" width="13.5" height="13.4" fill="#ffff00"/>
<rect x="696.2" y="150.6" width="13.5" height="13.4" fill="#fff000"/>
<rect x="723.1" y="150.6" width="13.5" height="13.4" fill="#ffff00"/>
<rect x="750.1" y="150.6" width="13.5" height="13.4" fill="#ffff20"/>
<rect x="777" y="150.6" width="13.5" height="13.4" fill="#ffff00"/>
<rect x="803.9" y="150.6" width="13.5" height="13.4" fill="#ffd800"/>
<rect x="830.8" y="150.6" width="13.5" height="13.4" fill="#ff9900"/>
<rect x="857.8" y="150.6" width="13.5" height="13.4" fill="#ffffd0"/>
<rect x="548.1" y="164" width="13.5" height="13.4" fill="#ffffff"/>
<rect x="575" y="164" width="13.5" height="13.4" fill="#ff9900"/>
<rect x="602" y="164" width="13.5" height="13.4" fill="#ffb000"/>
<rect x="628.9" y="164" width="13.5" height="13.4" fill="#ffe000"/>
<rect x="655.8" y="164" width="13.5" height="13.4" fill="#ffe000"/>
<rect x="682.7" y="164" width="13.5" height="13.4" fill="#ffe800"/>
<rect x="709.7" y="164" width="13.5" height="13.4" fill="#ffff00"/>
<rect x="736.6" y="164" width="13.5" height="13.4" fill="#ffff00"/>
<rect x="763.5" y="164" width="13.5" height="13.4" fill="#ffff00"/>
<rect x="790.5" y="164" width="13.5" height="13.4" fill="#ffff00"/>
<rect x="817.4" y="164" width="13.5" height="13.4" fill="#fff000"/>
<rect x="844.3" y="164" width="13.5" height="13.4" fill="#ff8800"/>
<rect x="871.2" y="164" width="13.5" height="13.4" fill="#ffffb0"/>
<rect x="561.6" y="177.5" width="13.5" height="13.4" fill="#ff7800"/>
<rect x="588.5" y="177.5" width="13.5" height="13.4" fill="#ffc000"/>
<rect x="615.4" y="177.5" width="13.5" height="13.4" fill="#ffd800"/>
<rect x="642.3" y="177.5" width="13.5" height="13.4" fill="#ffff00"/>
<rect x="669.3" y="177.5" width="13.5" height="13.4" fill="#ffff00"/>
<rect x="696.2" y="177.5" width="13.5" height="13.4" fill="#ffff20"/>
<rect x="723.1" y="177.5" width="13.5" height="13.4" fill="#ffff00"/>
<rect x="750.1" y="177.5" width="13.5" height="13.4" fill="#ffff20"/>
<rect x="777" y="177.5" width="13.5" height="13.4" fill="#ffff00"/>
<rect x="803.9" y="177.5" width="13.5" height="13.4" fill="#ffff30"/>
<rect x="830.8" y="177.5" width="13.5" height="13.4" fill="#fff000"/>
<rect x="857.8" y="177.5" width="13.5" height="13.4" fill="#ffb000"/>
<rect x="548.1" y="190.9" width="13.5" height="13.4" fill="#ff3800"/>
<rect x="575" y="190.9" width="13.5" height="13.4" fill="#ffd000"/>
<rect x="602" y="190.9" width="13.5" height="13.4" fill="#ffe000"/>
<rect x="628.9" y="190.9" width="13.5" height="13.4" fill="#ffff30"/>
<rect x="655.8" y="190.9" width="13.5" height="13.4" fill="#ffe800"/>
<rect x="682.7" y="190.9" width="13.5" height="13.4" fill="#fff000"/>
<rect x="709.7" y="190.9" width="13.5" height="13.4" fill="#ffff00"/>
<rect x="736.6" y="190.9" width="13.5" height="13.4" fill="#ffff00"/>
<rect x="763.5" y="190.9" width="13.5" height="13.4" fill="#ffff00"/>
<rect x="790.5" y="190.9" width="13.5" height="13.4" fill="#ffff00"/>
<rect x="817.4" y="190.9" width="13.5" height="13.4" fill="#ffff30"/>
<rect x="844.3" y="190.9" width="13.5" height="13.4" fill="#ffff40"/>
<rect x="871.2" y="190.9" width="13.5" height="13.4" fill="#ff7000"/>
<rect x="561.6" y="204.3" width="13.5" height="13.4" fill="#ff9900"/>
<rect x="588.5" y="204.3" width="13.5" height="13.4" fill="#ffd000"/>
<rect x="615.4" y="204.3" width="13.5" height="13.4" fill="#ffff00"/>
<rect x="642.3" y="204.3" width="13.5" height="13.4" fill="#ffff00"/>
<rect x="669.3" y="204.3" width="13.5" height="13.4" fill="#ffff00"/>
<rect x="696.2" y="204.3" width="13.5" height="13.4" fill="#ffff00"/>
<rect x="723.1" y="204.3" width="13.5" height="13.4" fill="#ffff00"/>
<rect x="750.1" y="204.3" width="13.5" height="13.4" fill="#ffe000"/>
<rect x="777" y="204.3" width="13.5" height="13.4" fill="#ffff00"/>
<rect x="803.9" y="204.3" width="13.5" height="13.4" fill="#ffff30"/>
<rect x="830.8" y="204.3" width="13.5" height="13.4" fill="#ffff00"/>
<rect x="857.8" y="204.3" width="13.5" height="13.4" fill="#ffd800"/>
<rect x="548.1" y="217.7" width="13.5" height="13.4" fill="#ffb800"/>
<rect x="575" y="217.7" width="13.5" height="13.4" fill="#ffc400"/>
<rect x="602" y="217.7" width="13.5" height="13.4" fill="#ffff00"/>
<rect x="628.9" y="217.7" width="13.5" height="13.4" fill="#ffd800"/>
<rect x="655.8" y="217.7" width="13.5" height="13.4" fill="#ffff00"/>
<rect x="682.7" y="217.7" width="13.5" height="13.4" fill="#ffff10"/>
<rect x="709.7" y="217.7" width="13.5" height="13.4" fill="#ffff00"/>
<rect x="736.6" y="217.7" width="13.5" height="13.4" fill="#ffe800"/>
<rect x="763.5" y="217.7" width="13.5" height="13.4" fill="#ffff00"/>
<rect x="790.5" y="217.7" width="13.5" height="13.4" fill="#ffe000"/>
<rect x="817.4" y="217.7" width="13.5" height="13.4" fill="#fff000"/>
<rect x="844.3" y="217.7" width="13.5" height="13.4" fill="#ffe000"/>
<rect x="871.2" y="217.7" width="13.5" height="13.4" fill="#ffc800"/>
<rect x="561.6" y="231.2" width="13.5" height="13.4" fill="#ffd000"/>
<rect x="588.5" y="231.2" width="13.5" height="13.4" fill="#ffd800"/>
<rect x="615.4" y="231.2" width="13.5" height="13.4" fill="#ffd800"/>
<rect x="642.3" y="231.2" width="13.5" height="13.4" fill="#ffe000"/>
<rect x="669.3" y="231.2" width="13.5" height="13.4" fill="#ffff00"/>
<rect x="696.2" y="231.2" width="13.5" height="13.4" fill="#ffff20"/>
<rect x="723.1" y="231.2" width="13.5" height="13.4" fill="#ffff00"/>
<rect x="750.1" y="231.2" width="13.5" height="13.4" fill="#ffd000"/>
<rect x="777" y="231.2" width="13.5" height="13.4" fill="#fff000"/>
<rect x="803.9" y="231.2" width="13.5" height="13.4" fill="#ffff00"/>
<rect x="830.8" y="231.2" width="13.5" height="13.4" fill="#ffff00"/>
<rect x="857.8" y="231.2" width="13.5" height="13.4" fill="#ffc800"/>
<rect x="548.1" y="244.6" width="13.5" height="13.4" fill="#ffa800"/>
<rect x="575" y="244.6" width="13.5" height="13.4" fill="#ffd000"/>
<rect x="602" y="244.6" width="13.5" height="13.4" fill="#ffd000"/>
<rect x="628.9" y="244.6" width="13.5" height="13.4" fill="#ffb800"/>
<rect x="655.8" y="244.6" width="13.5" height="13.4" fill="#fff000"/>
<rect x="682.7" y="244.6" width="13.5" height="13.4" fill="#fff000"/>
<rect x="709.7" y="244.6" width="13.5" height="13.4" fill="#ffff00"/>
<rect x="736.6" y="244.6" width="13.5" height="13.4" fill="#ffd800"/>
<rect x="763.5" y="244.6" width="13.5" height="13.4" fill="#ffff10"/>
<rect x="790.5" y="244.6" width="13.5" height="13.4" fill="#ffff40"/>
<rect x="817.4" y="244.6" width="13.5" height="13.4" fill="#ffff30"/>
<rect x="844.3" y="244.6" width="13.5" height="13.4" fill="#ffe000"/>
<rect x="871.2" y="244.6" width="13.5" height="13.4" fill="#ffb800"/>
<rect x="561.6" y="258" width="13.5" height="13.4" fill="#ff7000"/>
<rect x="588.5" y="258" width="13.5" height="13.4" fill="#ffb800"/>
<rect x="615.4" y="258" width="13.5" height="13.4" fill="#ffd800"/>
<rect x="642.3" y="258" width="13.5" height="13.4" fill="#ffe000"/>
<rect x="669.3" y="258" width="13.5" height="13.4" fill="#ffff20"/>
<rect x="696.2" y="258" width="13.5" height="13.4" fill="#ffff00"/>
<rect x="723.1" y="258" width="13.5" height="13.4" fill="#ffff50"/>
<rect x="750.1" y="258" width="13.5" height="13.4" fill="#ffff00"/>
<rect x="777" y="258" width="13.5" height="13.4" fill="#ffff50"/>
<rect x="803.9" y="258" width="13.5" height="13.4" fill="#ffff10"/>
<rect x="830.8" y="258" width="13.5" height="13.4" fill="#fff000"/>
<rect x="548.1" y="271.4" width="13.5" height="13.4" fill="#fffff0"/>
<rect x="575" y="271.4" width="13.5" height="13.4" fill="#ffb000"/>
<rect x="602" y="271.4" width="13.5" height="13.4" fill="#ffc000"/>
<rect x="628.9" y="271.4" width="13.5" height="13.4" fill="#ffe000"/>
<rect x="655.8" y="271.4" width="13.5" height="13.4" fill="#ffd800"/>
<rect x="682.7" y="271.4" width="13.5" height="13.4" fill="#ffe000"/>
<rect x="709.7" y="271.4" width="13.5" height="13.4" fill="#ffff30"/>
<rect x="736.6" y="271.4" width="13.5" height="13.4" fill="#ffff00"/>
<rect x="763.5" y="271.4" width="13.5" height="13.4" fill="#ffff40"/>
<rect x="790.5" y="271.4" width="13.5" height="13.4" fill="#ffff00"/>
<rect x="817.4" y="271.4" width="13.5" height="13.4" fill="#ffff00"/>
<rect x="844.3" y="271.4" width="13.5" height="13.4" fill="#ffb800"/>
<rect x="871.2" y="271.4" width="13.5" height="13.4" fill="#ffff10"/>
<rect x="561.6" y="284.9" width="13.5" height="13.4" fill="#ffffe0"/>
<rect x="588.5" y="284.9" width="13.5" height="13.4" fill="#ff9000"/>
<rect x="615.4" y="284.9" width="13.5" height="13.4" fill="#ffc000"/>
<rect x="642.3" y="284.9" width="13.5" height="13.4" fill="#ffe000"/>
<rect x="669.3" y="284.9" width="13.5" height="13.4" fill="#ffd800"/>
<rect x="696.2" y="284.9" width="13.5" height="13.4" fill="#ffff00"/>
<rect x="723.1" y="284.9" width="13.5" height="13.4" fill="#ffff20"/>
<rect x="750.1" y="284.9" width="13.5" height="13.4" fill="#ffff30"/>
<rect x="777" y="284.9" width="13.5" height="13.4" fill="#ffff00"/>
<rect x="803.9" y="284.9" width="13.5" height="13.4" fill="#ffff00"/>
<rect x="830.8" y="284.9" width="13.5" height="13.4" fill="#ffe000"/>
<rect x="857.8" y="284.9" width="13.5" height="13.4" fill="#ffff00"/>
<rect x="575" y="298.3" width="13.5" height="13.4" fill="#ffffc0"/>
<rect x="602" y="298.3" width="13.5" height="13.4" fill="#ff8800"/>
<rect x="628.9" y="298.3" width="13.5" height="13.4" fill="#ffc800"/>
<rect x="655.8" y="298.3" width="13.5" height="13.4" fill="#ffff00"/>
<rect x="682.7" y="298.3" width="13.5" height="13.4" fill="#ffff00"/>
<rect x="709.7" y="298.3" width="13.5" height="13.4" fill="#ffff20"/>
<rect x="736.6" y="298.3" width="13.5" height="13.4" fill="#ffff00"/>
<rect x="763.5" y="298.3" width="13.5" height="13.4" fill="#ffff20"/>
<rect x="790.5" y="298.3" width="13.5" height="13.4" fill="#ffff30"/>
<rect x="817.4" y="298.3" width="13.5" height="13.4" fill="#ffff30"/>
<rect x="844.3" y="298.3" width="13.5" height="13.4" fill="#ffff30"/>
<rect x="588.5" y="311.7" width="13.5" height="13.4" fill="#ffff10"/>
<rect x="615.4" y="311.7" width="13.5" height="13.4" fill="#ff9800"/>
<rect x="642.3" y="311.7" width="13.5" height="13.4" fill="#ffe000"/>
<rect x="669.3" y="311.7" width="13.5" height="13.4" fill="#ffe800"/>
<rect x="696.2" y="311.7" width="13.5" height="13.4" fill="#ffff30"/>
<rect x="723.1" y="311.7" width="13.5" height="13.4" fill="#ffff40"/>
<rect x="750.1" y="311.7" width="13.5" height="13.4" fill="#ffff20"/>
<rect x="777" y="311.7" width="13.5" height="13.4" fill="#ffff40"/>
<rect x="803.9" y="311.7" width="13.5" height="13.4" fill="#ffff00"/>
<rect x="830.8" y="311.7" width="13.5" height="13.4" fill="#ffc800"/>
<rect x="602" y="325.2" width="13.5" height="13.4" fill="#ff2800"/>
<rect x="628.9" y="325.2" width="13.5" height="13.4" fill="#ffa000"/>
<rect x="655.8" y="325.2" width="13.5" height="13.4" fill="#ffd000"/>
<rect x="682.7" y="325.2" width="13.5" height="13.4" fill="#ffff10"/>
<rect x="709.7" y="325.2" width="13.5" height="13.4" fill="#ffff00"/>
<rect x="736.6" y="325.2" width="13.5" height="13.4" fill="#ffff20"/>
<rect x="763.5" y="325.2" width="13.5" height="13.4" fill="#ffff30"/>
<rect x="790.5" y="325.2" width="13.5" height="13.4" fill="#ffff30"/>
<rect x="817.4" y="325.2" width="13.5" height="13.4" fill="#ffd000"/>
<rect x="615.4" y="338.6" width="13.5" height="13.4" fill="#ffb800"/>
<rect x="642.3" y="338.6" width="13.5" height="13.4" fill="#ff8000"/>
<rect x="669.3" y="338.6" width="13.5" height="13.4" fill="#ffe000"/>
<rect x="696.2" y="338.6" width="13.5" height="13.4" fill="#ffd800"/>
<rect x="723.1" y="338.6" width="13.5" height="13.4" fill="#ffff00"/>
<rect x="750.1" y="338.6" width="13.5" height="13.4" fill="#ffff00"/>
<rect x="777" y="338.6" width="13.5" height="13.4" fill="#ffff20"/>
<rect x="803.9" y="338.6" width="13.5" height="13.4" fill="#ff8800"/>
<rect x="628.9" y="352" width="13.5" height="13.4" fill="#ffff60"/>
<rect x="655.8" y="352" width="13.5" height="13.4" fill="#ff3800"/>
<rect x="682.7" y="352" width="13.5" height="13.4" fill="#ffc000"/>
<rect x="709.7" y="352" width="13.5" height="13.4" fill="#ffff20"/>
<rect x="736.6" y="352" width="13.5" height="13.4" fill="#ffff30"/>
<rect x="763.5" y="352" width="13.5" height="13.4" fill="#ffc800"/>
<rect x="790.5" y="352" width="13.5" height="13.4" fill="#ffb800"/>
<rect x="642.3" y="365.4" width="13.5" height="13.4" fill="#ffffe0"/>
<rect x="669.3" y="365.4" width="13.5" height="13.4" fill="#ffa000"/>
<rect x="696.2" y="365.4" width="13.5" height="13.4" fill="#ffff10"/>
<rect x="723.1" y="365.4" width="13.5" height="13.4" fill="#ffff00"/>
<rect x="750.1" y="365.4" width="13.5" height="13.4" fill="#ff9000"/>
<rect x="777" y="365.4" width="13.5" height="13.4" fill="#ffb000"/>
<rect x="655.8" y="378.9" width="13.5" height="13.4" fill="#ffffc0"/>
<rect x="682.7" y="378.9" width="13.5" height="13.4" fill="#ffa800"/>
<rect x="709.7" y="378.9" width="13.5" height="13.4" fill="#ffff20"/>
<rect x="736.6" y="378.9" width="13.5" height="13.4" fill="#ffa800"/>
<rect x="763.5" y="378.9" width="13.5" height="13.4" fill="#ffff30"/>
<path d="M554.8 56.6v3.5M554.8 392.3v-3.5M548.1 63.3h3.5M884.7 63.3h-3.5M608.7 56.6v3.5M608.7 392.3v-3.5M548.1 117h3.5M884.7 117h-3.5M662.5 56.6v3.5M662.5 392.3v-3.5M548.1 170.7h3.5M884.7 170.7h-3.5M716.4 56.6v3.5M716.4 392.3v-3.5M548.1 224.4h3.5M884.7 224.4h-3.5M770.3 56.6v3.5M770.3 392.3v-3.5M548.1 278.2h3.5M884.7 278.2h-3.5M824.1 56.6v3.5M824.1 392.3v-3.5M548.1 331.9h3.5M884.7 331.9h-3.5M878 56.6v3.5M878 392.3v-3.5M548.1 385.6h3.5M884.7 385.6h-3.5" stroke="#000" stroke-width="0.8" fill="none"/>
<rect x="1073.2" y="56.3" width="337.1" height="335.2" fill="#0b0000" stroke="#000" stroke-width="1"/>
<rect x="1235" y="83.1" width="13.5" height="13.4" fill="#ffff90"/>
<rect x="1194.6" y="96.5" width="13.5" height="13.4" fill="#ffff80"/>
<rect x="1221.5" y="96.5" width="13.5" height="13.4" fill="#ffff70"/>
<rect x="1181.1" y="109.9" width="13.5" height="13.4" fill="#ffff90"/>
<rect x="1208" y="109.9" width="13.5" height="13.4" fill="#ffff50"/>
<rect x="1235" y="109.9" width="13.5" height="13.4" fill="#ffff80"/>
<rect x="1262" y="109.9" width="13.5" height="13.4" fill="#ffffc8"/>
<rect x="1167.6" y="123.3" width="13.5" height="13.4" fill="#ffff80"/>
<rect x="1194.6" y="123.3" width="13.5" height="13.4" fill="#ffff70"/>
<rect x="1221.5" y="123.3" width="13.5" height="13.4" fill="#ffff70"/>
<rect x="1248.5" y="123.3" width="13.5" height="13.4" fill="#ffffb0"/>
<rect x="1275.5" y="123.3" width="13.5" height="13.4" fill="#ffff88"/>
<rect x="1181.1" y="136.7" width="13.5" height="13.4" fill="#ffff78"/>
<rect x="1208" y="136.7" width="13.5" height="13.4" fill="#ffffa0"/>
<rect x="1235" y="136.7" width="13.5" height="13.4" fill="#ffff68"/>
<rect x="1262" y="136.7" width="13.5" height="13.4" fill="#ffffa0"/>
<rect x="1167.6" y="150.2" width="13.5" height="13.4" fill="#ffff88"/>
<rect x="1194.6" y="150.2" width="13.5" height="13.4" fill="#ffff90"/>
<rect x="1221.5" y="150.2" width="13.5" height="13.4" fill="#ffff68"/>
<rect x="1248.5" y="150.2" width="13.5" height="13.4" fill="#ffff90"/>
<rect x="1275.5" y="150.2" width="13.5" height="13.4" fill="#ffffc0"/>
<rect x="1181.1" y="163.6" width="13.5" height="13.4" fill="#ffff58"/>
<rect x="1208" y="163.6" width="13.5" height="13.4" fill="#ffff58"/>
<rect x="1235" y="163.6" width="13.5" height="13.4" fill="#ffffa0"/>
<rect x="1262" y="163.6" width="13.5" height="13.4" fill="#ffff90"/>
<rect x="1288.9" y="163.6" width="13.5" height="13.4" fill="#ffffa0"/>
<rect x="1315.9" y="163.6" width="13.5" height="13.4" fill="#ffffa0"/>
<rect x="1167.6" y="177" width="13.5" height="13.4" fill="#ffffa0"/>
<rect x="1194.6" y="177" width="13.5" height="13.4" fill="#ffffb0"/>
<rect x="1221.5" y="177" width="13.5" height="13.4" fill="#ffffb0"/>
<rect x="1248.5" y="177" width="13.5" height="13.4" fill="#ffffa0"/>
<rect x="1302.4" y="177" width="13.5" height="13.4" fill="#ffff98"/>
<rect x="1181.1" y="190.4" width="13.5" height="13.4" fill="#ffff70"/>
<rect x="1208" y="190.4" width="13.5" height="13.4" fill="#ffff68"/>
<rect x="1235" y="190.4" width="13.5" height="13.4" fill="#ffffa0"/>
<rect x="1262" y="190.4" width="13.5" height="13.4" fill="#ffff90"/>
<rect x="1288.9" y="190.4" width="13.5" height="13.4" fill="#ffffa0"/>
<rect x="1315.9" y="190.4" width="13.5" height="13.4" fill="#ffff90"/>
<rect x="1194.6" y="203.8" width="13.5" height="13.4" fill="#ffffa0"/>
<rect x="1221.5" y="203.8" width="13.5" height="13.4" fill="#ffffa0"/>
<rect x="1248.5" y="203.8" width="13.5" height="13.4" fill="#ffffb8"/>
<rect x="1100.2" y="217.2" width="13.5" height="13.4" fill="#ffff40"/>
<rect x="1181.1" y="217.2" width="13.5" height="13.4" fill="#ffff78"/>
<rect x="1208" y="217.2" width="13.5" height="13.4" fill="#ffff98"/>
<rect x="1235" y="217.2" width="13.5" height="13.4" fill="#ffff90"/>
<rect x="1315.9" y="217.2" width="13.5" height="13.4" fill="#ffff60"/>
<rect x="1086.7" y="230.6" width="13.5" height="13.4" fill="#ffff50"/>
<rect x="1113.7" y="230.6" width="13.5" height="13.4" fill="#ffff50"/>
<rect x="1140.6" y="230.6" width="13.5" height="13.4" fill="#ffff50"/>
<rect x="1194.6" y="230.6" width="13.5" height="13.4" fill="#ffff78"/>
<rect x="1100.2" y="244" width="13.5" height="13.4" fill="#ffff40"/>
<rect x="1127.1" y="244" width="13.5" height="13.4" fill="#ffff50"/>
<rect x="1154.1" y="244" width="13.5" height="13.4" fill="#ffff00"/>
<rect x="1208" y="244" width="13.5" height="13.4" fill="#ffff70"/>
<rect x="1288.9" y="244" width="13.5" height="13.4" fill="#ffffa8"/>
<rect x="1315.9" y="244" width="13.5" height="13.4" fill="#ffffe8"/>
<rect x="1113.7" y="257.4" width="13.5" height="13.4" fill="#ffff20"/>
<rect x="1140.6" y="257.4" width="13.5" height="13.4" fill="#ffff58"/>
<rect x="1302.4" y="257.4" width="13.5" height="13.4" fill="#ffffff"/>
<rect x="1154.1" y="270.8" width="13.5" height="13.4" fill="#ffff58"/>
<rect x="1181.1" y="270.8" width="13.5" height="13.4" fill="#ffff50"/>
<rect x="1262" y="270.8" width="13.5" height="13.4" fill="#ffff90"/>
<rect x="1288.9" y="270.8" width="13.5" height="13.4" fill="#fffff0"/>
<rect x="1315.9" y="270.8" width="13.5" height="13.4" fill="#ffffb8"/>
<rect x="1167.6" y="284.2" width="13.5" height="13.4" fill="#ffff58"/>
<rect x="1194.6" y="284.2" width="13.5" height="13.4" fill="#ffff40"/>
<rect x="1248.5" y="284.2" width="13.5" height="13.4" fill="#ffff98"/>
<rect x="1302.4" y="284.2" width="13.5" height="13.4" fill="#ffffc0"/>
<rect x="1181.1" y="297.6" width="13.5" height="13.4" fill="#ffff88"/>
<rect x="1235" y="297.6" width="13.5" height="13.4" fill="#ffffa8"/>
<rect x="1315.9" y="297.6" width="13.5" height="13.4" fill="#ffffe0"/>
<rect x="1194.6" y="311.1" width="13.5" height="13.4" fill="#ffff60"/>
<rect x="1248.5" y="311.1" width="13.5" height="13.4" fill="#ffffd0"/>
<rect x="1302.4" y="311.1" width="13.5" height="13.4" fill="#fffff0"/>
<path d="M1079.9 56.3v3.5M1079.9 391.5v-3.5M1073.2 63h3.5M1410.3 63h-3.5M1133.9 56.3v3.5M1133.9 391.5v-3.5M1073.2 116.6h3.5M1410.3 116.6h-3.5M1187.8 56.3v3.5M1187.8 391.5v-3.5M1073.2 170.3h3.5M1410.3 170.3h-3.5M1241.8 56.3v3.5M1241.8 391.5v-3.5M1073.2 223.9h3.5M1410.3 223.9h-3.5M1295.7 56.3v3.5M1295.7 391.5v-3.5M1073.2 277.5h3.5M1410.3 277.5h-3.5M1349.6 56.3v3.5M1349.6 391.5v-3.5M1073.2 331.2h3.5M1410.3 331.2h-3.5M1403.6 56.3v3.5M1403.6 391.5v-3.5M1073.2 384.8h3.5M1410.3 384.8h-3.5" stroke="#000" stroke-width="0.8" fill="none"/>
<rect x="894.3" y="102.3" width="29.0" height="248.09999999999997" fill="url(#hot)" stroke="#333" stroke-width="0.6"/>
<path d="M894.3 116.9h3M923.3 116.9h-3" stroke="#000" stroke-width="0.7"/>
<path d="M894.3 194.7h3M923.3 194.7h-3" stroke="#000" stroke-width="0.7"/>
<path d="M894.3 272.6h3M923.3 272.6h-3" stroke="#000" stroke-width="0.7"/>
<rect x="1417" y="99.5" width="27" height="244.10000000000002" fill="url(#hot)" stroke="#333" stroke-width="0.6"/>
<path d="M1417 124.5h3M1444 124.5h-3" stroke="#000" stroke-width="0.7"/>
<path d="M1417 161.2h3M1444 161.2h-3" stroke="#000" stroke-width="0.7"/>
<path d="M1417 198h3M1444 198h-3" stroke="#000" stroke-width="0.7"/>
<path d="M1417 234.7h3M1444 234.7h-3" stroke="#000" stroke-width="0.7"/>
<path d="M1417 271.5h3M1444 271.5h-3" stroke="#000" stroke-width="0.7"/>
<path d="M1417 308.2h3M1444 308.2h-3" stroke="#000" stroke-width="0.7"/>
<text class="h" x="293" y="35.7" text-anchor="middle">(a)</text>
<text class="h" x="716" y="33.7" text-anchor="middle">(b)</text>
<text class="h" x="1241.5" y="33.5" text-anchor="middle">(c)</text>
<text class="t" x="550.9" y="420.2" text-anchor="middle">-6</text>
<text class="t" x="604" y="420.2" text-anchor="middle">-4</text>
<text class="t" x="657.5" y="420.2" text-anchor="middle">-2</text>
<text class="t" x="713" y="420.2" text-anchor="middle">0</text>
<text class="t" x="766.3" y="420.2" text-anchor="middle">2</text>
<text class="t" x="819.2" y="420.2" text-anchor="middle">4</text>
<text class="t" x="873.6" y="420.2" text-anchor="middle">6</text>
<text class="t" x="1076" y="420.2" text-anchor="middle">-6</text>
<text class="t" x="1129.1" y="420.2" text-anchor="middle">-4</text>
<text class="t" x="1182.6" y="420.2" text-anchor="middle">-2</text>
<text class="t" x="1238.1" y="420.2" text-anchor="middle">0</text>
<text class="t" x="1291.4" y="420.2" text-anchor="middle">2</text>
<text class="t" x="1344.3" y="420.2" text-anchor="middle">4</text>
<text class="t" x="1398.7" y="420.2" text-anchor="middle">6</text>
<text class="t" x="522.5" y="74.6" text-anchor="start">-6</text>
<text class="t" x="1047.6" y="74.6" text-anchor="start">-6</text>
<text class="t" x="522.5" y="128.2" text-anchor="start">-4</text>
<text class="t" x="1047.6" y="128.2" text-anchor="start">-4</text>
<text class="t" x="522.5" y="181.8" text-anchor="start">-2</text>
<text class="t" x="1047.6" y="181.8" text-anchor="start">-2</text>
<text class="t" x="523.3" y="235.4" text-anchor="start">0</text>
<text class="t" x="1048.4" y="235.4" text-anchor="start">0</text>
<text class="t" x="523.3" y="289" text-anchor="start">2</text>
<text class="t" x="1048.4" y="289" text-anchor="start">2</text>
<text class="t" x="523.3" y="342.6" text-anchor="start">4</text>
<text class="t" x="1048.4" y="342.6" text-anchor="start">4</text>
<text class="t" x="523.3" y="396.2" text-anchor="start">6</text>
<text class="t" x="1048.4" y="396.2" text-anchor="start">6</text>
<text class="t" x="715.5" y="450" text-anchor="middle">X [cm]</text>
<text class="t" x="1240.6" y="450" text-anchor="middle">X [cm]</text>
<text class="t" x="509.7" y="224.5" text-anchor="middle" transform="rotate(-90 509.7 224.5)">Y [cm]</text>
<text class="t" x="1034.8" y="224.5" text-anchor="middle" transform="rotate(-90 1034.8 224.5)">Y [cm]</text>
<text class="t" x="927" y="125.8" text-anchor="start">150</text>
<text class="t" x="927" y="203.6" text-anchor="start">100</text>
<text class="t" x="927" y="281.5" text-anchor="start">50</text>
<text class="t" x="927" y="359.3" text-anchor="start">0</text>
<text class="t" x="1447" y="133.4" text-anchor="start">120</text>
<text class="t" x="1447" y="170.1" text-anchor="start">100</text>
<text class="t" x="1447" y="206.9" text-anchor="start">80</text>
<text class="t" x="1447" y="243.6" text-anchor="start">60</text>
<text class="t" x="1447" y="280.4" text-anchor="start">40</text>
<text class="t" x="1447" y="317.1" text-anchor="start">20</text>
<text class="t" x="990" y="229.5" text-anchor="middle" transform="rotate(-90 990 229.5)">WEPL [mm]</text>
<text class="t" x="1512" y="223" text-anchor="middle" transform="rotate(-90 1512 223)">WEPL [mm]</text>
<text class="t" x="83.4" y="141" text-anchor="end">150</text>
<text class="t" x="83.4" y="189" text-anchor="end">100</text>
<text class="t" x="81.6" y="237" text-anchor="end">50</text>
<text class="t" x="81.8" y="285" text-anchor="end">0</text>
<text class="t" x="70.6" y="308.2" text-anchor="middle">-6</text>
<text class="t" x="97.9" y="325.9" text-anchor="middle">-4</text>
<text class="t" x="125.2" y="344.3" text-anchor="middle">-2</text>
<text class="t" x="149.5" y="361.3" text-anchor="middle">0</text>
<text class="t" x="176.8" y="378.9" text-anchor="middle">2</text>
<text class="t" x="204.5" y="396.5" text-anchor="middle">4</text>
<text class="t" x="231.6" y="414.2" text-anchor="middle">6</text>
<text class="t" x="273.5" y="415.9" text-anchor="middle">-6</text>
<text class="t" x="306.6" y="403.7" text-anchor="middle">-4</text>
<text class="t" x="341.2" y="390.6" text-anchor="middle">-2</text>
<text class="t" x="371" y="377.4" text-anchor="middle">0</text>
<text class="t" x="405" y="364.4" text-anchor="middle">2</text>
<text class="t" x="438.8" y="351.6" text-anchor="middle">4</text>
<text class="t" x="473.2" y="337.5" text-anchor="middle">6</text>
<text class="b" x="120.5" y="416" text-anchor="middle">Y [cm]</text>
<text class="b" x="395.6" y="423" text-anchor="middle">X [cm]</text>
<text class="b" x="28" y="207.5" text-anchor="middle" transform="rotate(-90 28 207.5)">WEPL [mm]</text>
</svg></body></html>
